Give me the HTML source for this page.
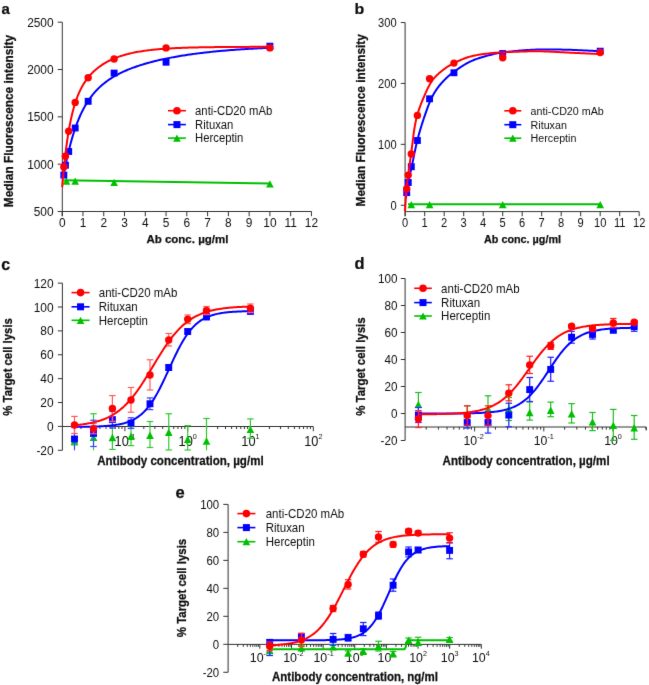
<!DOCTYPE html>
<html><head><meta charset="utf-8"><style>
html,body{margin:0;padding:0;background:#fff;}
svg{display:block;will-change:transform;}
text{font-family:"Liberation Sans",sans-serif;}
</style></head><body>
<svg width="649" height="685" viewBox="0 0 649 685">
<defs><filter id="soft" x="0" y="0" width="649" height="685" filterUnits="userSpaceOnUse"><feConvolveMatrix order="3" kernelMatrix="0.00524 0.06192 0.00524 0.06192 0.73137 0.06192 0.00524 0.06192 0.00524" edgeMode="none"/></filter></defs>
<rect width="649" height="685" fill="#fff"/>
<g filter="url(#soft)">
<line x1="62.3" y1="22.2" x2="62.3" y2="216.2" stroke="#333333" stroke-width="1.0"/>
<line x1="62.3" y1="211.5" x2="311.5" y2="211.5" stroke="#333333" stroke-width="1.0"/>
<line x1="57.7" y1="211.5" x2="62.3" y2="211.5" stroke="#333333" stroke-width="1.0"/>
<text transform="translate(53.6 216) scale(1 1.09)" font-size="11.9" text-anchor="end" fill="#111111">500</text>
<line x1="57.7" y1="164.18" x2="62.3" y2="164.18" stroke="#333333" stroke-width="1.0"/>
<text transform="translate(53.6 168.68) scale(1 1.09)" font-size="11.9" text-anchor="end" fill="#111111">1000</text>
<line x1="57.7" y1="116.85" x2="62.3" y2="116.85" stroke="#333333" stroke-width="1.0"/>
<text transform="translate(53.6 121.35) scale(1 1.09)" font-size="11.9" text-anchor="end" fill="#111111">1500</text>
<line x1="57.7" y1="69.53" x2="62.3" y2="69.53" stroke="#333333" stroke-width="1.0"/>
<text transform="translate(53.6 74.03) scale(1 1.09)" font-size="11.9" text-anchor="end" fill="#111111">2000</text>
<line x1="57.7" y1="22.2" x2="62.3" y2="22.2" stroke="#333333" stroke-width="1.0"/>
<text transform="translate(53.6 26.7) scale(1 1.09)" font-size="11.9" text-anchor="end" fill="#111111">2500</text>
<line x1="62.2" y1="211.5" x2="62.2" y2="216.2" stroke="#333333" stroke-width="1.0"/>
<text transform="translate(62.2 226.7) scale(1 1.09)" font-size="11.9" text-anchor="middle" fill="#111111">0</text>
<line x1="82.97" y1="211.5" x2="82.97" y2="216.2" stroke="#333333" stroke-width="1.0"/>
<text transform="translate(82.97 226.7) scale(1 1.09)" font-size="11.9" text-anchor="middle" fill="#111111">1</text>
<line x1="103.74" y1="211.5" x2="103.74" y2="216.2" stroke="#333333" stroke-width="1.0"/>
<text transform="translate(103.74 226.7) scale(1 1.09)" font-size="11.9" text-anchor="middle" fill="#111111">2</text>
<line x1="124.51" y1="211.5" x2="124.51" y2="216.2" stroke="#333333" stroke-width="1.0"/>
<text transform="translate(124.51 226.7) scale(1 1.09)" font-size="11.9" text-anchor="middle" fill="#111111">3</text>
<line x1="145.28" y1="211.5" x2="145.28" y2="216.2" stroke="#333333" stroke-width="1.0"/>
<text transform="translate(145.28 226.7) scale(1 1.09)" font-size="11.9" text-anchor="middle" fill="#111111">4</text>
<line x1="166.05" y1="211.5" x2="166.05" y2="216.2" stroke="#333333" stroke-width="1.0"/>
<text transform="translate(166.05 226.7) scale(1 1.09)" font-size="11.9" text-anchor="middle" fill="#111111">5</text>
<line x1="186.82" y1="211.5" x2="186.82" y2="216.2" stroke="#333333" stroke-width="1.0"/>
<text transform="translate(186.82 226.7) scale(1 1.09)" font-size="11.9" text-anchor="middle" fill="#111111">6</text>
<line x1="207.59" y1="211.5" x2="207.59" y2="216.2" stroke="#333333" stroke-width="1.0"/>
<text transform="translate(207.59 226.7) scale(1 1.09)" font-size="11.9" text-anchor="middle" fill="#111111">7</text>
<line x1="228.36" y1="211.5" x2="228.36" y2="216.2" stroke="#333333" stroke-width="1.0"/>
<text transform="translate(228.36 226.7) scale(1 1.09)" font-size="11.9" text-anchor="middle" fill="#111111">8</text>
<line x1="249.13" y1="211.5" x2="249.13" y2="216.2" stroke="#333333" stroke-width="1.0"/>
<text transform="translate(249.13 226.7) scale(1 1.09)" font-size="11.9" text-anchor="middle" fill="#111111">9</text>
<line x1="269.9" y1="211.5" x2="269.9" y2="216.2" stroke="#333333" stroke-width="1.0"/>
<text transform="translate(269.9 226.7) scale(1 1.09)" font-size="11.9" text-anchor="middle" fill="#111111">10</text>
<line x1="290.67" y1="211.5" x2="290.67" y2="216.2" stroke="#333333" stroke-width="1.0"/>
<text transform="translate(290.67 226.7) scale(1 1.09)" font-size="11.9" text-anchor="middle" fill="#111111">11</text>
<line x1="311.44" y1="211.5" x2="311.44" y2="216.2" stroke="#333333" stroke-width="1.0"/>
<text transform="translate(311.44 226.7) scale(1 1.09)" font-size="11.9" text-anchor="middle" fill="#111111">12</text>
<text transform="translate(187.4 243.2) scale(1 1.0)" font-size="11.5" text-anchor="middle" font-weight="bold" stroke="#111111" stroke-width="0.25" fill="#111111">Ab conc. µg/ml</text>
<text transform="translate(12.5 121) rotate(-90) scale(1 1.09)" font-size="11.85" text-anchor="middle" font-weight="bold" stroke="#111111" stroke-width="0.25" fill="#111111">Median Fluorescence intensity</text>
<text transform="translate(1.5 13.9) scale(1 1.0)" font-size="15" text-anchor="start" font-weight="bold" stroke="#111111" stroke-width="0.25" fill="#111111">a</text>
<polyline points="63.5,180.3 269.75,183.6" fill="none" stroke="#00c000" stroke-width="2.0" stroke-linejoin="round"/>
<polygon points="66.4,177.3 62.55,184.7 70.25,184.7" fill="#00c000"/>
<polygon points="75.18,177.4 71.33,184.8 79.03,184.8" fill="#00c000"/>
<polygon points="114.12,178.7 110.28,186.1 117.97,186.1" fill="#00c000"/>
<polygon points="269.9,180.2 266.05,187.6 273.75,187.6" fill="#00c000"/>
<polyline points="63,179.1 64.3,171.84 65.6,165.11 66.9,158.87 68.2,153.09 69.5,147.72 70.8,142.74 72.1,138.11 73.4,133.8 74.7,129.78 76,126.04 77.3,122.55 78.6,119.3 79.9,116.25 81.2,113.4 82.5,110.73 83.81,108.23 85.11,105.88 86.41,103.68 87.71,101.6 89.01,99.65 90.31,97.8 91.61,96.06 92.91,94.42 94.21,92.86 95.51,91.39 96.81,89.99 98.11,88.66 99.41,87.4 100.71,86.19 102.01,85.05 103.31,83.95 104.61,82.91 105.91,81.91 107.21,80.95 108.51,80.03 109.81,79.15 111.11,78.31 112.41,77.5 113.71,76.71 115.01,75.96 116.31,75.23 117.61,74.53 118.91,73.85 120.21,73.2 121.51,72.57 122.81,71.95 124.11,71.36 125.42,70.78 126.72,70.22 128.02,69.68 129.32,69.15 130.62,68.64 131.92,68.14 133.22,67.66 134.52,67.19 135.82,66.73 137.12,66.28 138.42,65.84 139.72,65.42 141.02,65 142.32,64.6 143.62,64.2 144.92,63.81 146.22,63.44 147.52,63.07 148.82,62.71 150.12,62.35 151.42,62.01 152.72,61.67 154.02,61.34 155.32,61.02 156.62,60.71 157.92,60.4 159.22,60.09 160.52,59.8 161.82,59.51 163.12,59.22 164.42,58.95 165.72,58.67 167.03,58.41 168.33,58.15 169.63,57.89 170.93,57.64 172.23,57.39 173.53,57.15 174.83,56.92 176.13,56.68 177.43,56.46 178.73,56.23 180.03,56.02 181.33,55.8 182.63,55.59 183.93,55.39 185.23,55.18 186.53,54.99 187.83,54.79 189.13,54.6 190.43,54.42 191.73,54.23 193.03,54.05 194.33,53.88 195.63,53.71 196.93,53.54 198.23,53.37 199.53,53.21 200.83,53.05 202.13,52.89 203.43,52.74 204.73,52.59 206.03,52.44 207.33,52.29 208.64,52.15 209.94,52.01 211.24,51.87 212.54,51.74 213.84,51.61 215.14,51.48 216.44,51.35 217.74,51.23 219.04,51.11 220.34,50.99 221.64,50.87 222.94,50.75 224.24,50.64 225.54,50.53 226.84,50.42 228.14,50.31 229.44,50.21 230.74,50.11 232.04,50.01 233.34,49.91 234.64,49.81 235.94,49.71 237.24,49.62 238.54,49.53 239.84,49.44 241.14,49.35 242.44,49.26 243.74,49.18 245.04,49.1 246.34,49.01 247.64,48.93 248.94,48.86 250.25,48.78 251.55,48.7 252.85,48.63 254.15,48.56 255.45,48.48 256.75,48.41 258.05,48.35 259.35,48.28 260.65,48.21 261.95,48.15 263.25,48.08 264.55,48.02 265.85,47.96 267.15,47.9 268.45,47.84 269.75,47.78" fill="none" stroke="#0000ff" stroke-width="2.0" stroke-linejoin="round"/>
<rect x="60.37" y="171.65" width="6.9" height="6.9" fill="#0000ff"/>
<rect x="61.99" y="161.75" width="6.9" height="6.9" fill="#0000ff"/>
<rect x="65.24" y="148.05" width="6.9" height="6.9" fill="#0000ff"/>
<rect x="71.73" y="124.55" width="6.9" height="6.9" fill="#0000ff"/>
<rect x="84.71" y="97.85" width="6.9" height="6.9" fill="#0000ff"/>
<rect x="110.67" y="69.65" width="6.9" height="6.9" fill="#0000ff"/>
<rect x="162.6" y="58.75" width="6.9" height="6.9" fill="#0000ff"/>
<rect x="266.45" y="42.75" width="6.9" height="6.9" fill="#0000ff"/>
<polyline points="62.25,187.2 63.56,172.12 64.86,159.24 66.17,148.21 67.47,138.71 68.78,130.51 70.08,123.38 71.39,117.16 72.69,111.71 74,106.9 75.3,102.63 76.61,98.83 77.91,95.43 79.22,92.37 80.52,89.59 81.83,87.07 83.13,84.77 84.44,82.65 85.74,80.71 87.05,78.9 88.35,77.23 89.66,75.68 90.96,74.22 92.27,72.86 93.57,71.58 94.88,70.38 96.18,69.25 97.49,68.18 98.79,67.17 100.1,66.22 101.4,65.31 102.71,64.45 104.01,63.64 105.32,62.86 106.62,62.12 107.93,61.42 109.23,60.75 110.54,60.12 111.84,59.51 113.15,58.94 114.45,58.38 115.76,57.86 117.06,57.36 118.37,56.88 119.67,56.43 120.98,55.99 122.28,55.58 123.59,55.18 124.89,54.8 126.2,54.44 127.5,54.1 128.81,53.77 130.11,53.45 131.42,53.15 132.72,52.87 134.03,52.59 135.33,52.33 136.64,52.08 137.94,51.85 139.25,51.62 140.55,51.4 141.86,51.19 143.16,50.99 144.47,50.81 145.77,50.62 147.08,50.45 148.38,50.29 149.69,50.13 150.99,49.98 152.3,49.84 153.6,49.7 154.91,49.57 156.21,49.44 157.52,49.32 158.82,49.21 160.13,49.1 161.43,49 162.74,48.9 164.04,48.8 165.35,48.71 166.65,48.62 167.96,48.54 169.26,48.46 170.57,48.39 171.87,48.31 173.18,48.24 174.48,48.18 175.79,48.12 177.09,48.06 178.4,48 179.7,47.94 181.01,47.89 182.31,47.84 183.62,47.79 184.92,47.75 186.23,47.7 187.53,47.66 188.84,47.62 190.14,47.58 191.45,47.55 192.75,47.51 194.06,47.48 195.36,47.45 196.67,47.42 197.97,47.39 199.28,47.36 200.58,47.34 201.89,47.31 203.19,47.29 204.5,47.26 205.8,47.24 207.11,47.22 208.41,47.2 209.72,47.18 211.02,47.16 212.33,47.15 213.63,47.13 214.94,47.11 216.24,47.1 217.55,47.08 218.85,47.07 220.16,47.06 221.46,47.04 222.77,47.03 224.07,47.02 225.38,47.01 226.68,47 227.99,46.99 229.29,46.98 230.6,46.97 231.9,46.96 233.21,46.95 234.51,46.95 235.82,46.94 237.12,46.93 238.43,46.92 239.73,46.92 241.04,46.91 242.34,46.91 243.65,46.9 244.95,46.89 246.26,46.89 247.56,46.88 248.87,46.88 250.17,46.87 251.48,46.87 252.78,46.87 254.09,46.86 255.39,46.86 256.7,46.85 258,46.85 259.31,46.85 260.61,46.84 261.92,46.84 263.22,46.84 264.53,46.84 265.83,46.83 267.14,46.83 268.44,46.83 269.75,46.83" fill="none" stroke="#ff0000" stroke-width="2.0" stroke-linejoin="round"/>
<circle cx="63.82" cy="167" r="3.7" fill="#ff0000"/>
<circle cx="65.44" cy="156.2" r="3.7" fill="#ff0000"/>
<circle cx="68.69" cy="131.2" r="3.7" fill="#ff0000"/>
<circle cx="75.18" cy="102.4" r="3.7" fill="#ff0000"/>
<circle cx="88.16" cy="77.75" r="3.7" fill="#ff0000"/>
<circle cx="114.12" cy="59" r="3.7" fill="#ff0000"/>
<circle cx="166.05" cy="47.9" r="3.7" fill="#ff0000"/>
<circle cx="269.9" cy="47.9" r="3.7" fill="#ff0000"/>
<line x1="168" y1="110.7" x2="185.9" y2="110.7" stroke="#ff0000" stroke-width="1.6"/>
<circle cx="176.95" cy="110.7" r="3.8" fill="#ff0000"/>
<text transform="translate(195.1 114.77) scale(1 1.09)" font-size="11.3" text-anchor="start" fill="#111111">anti-CD20 mAb</text>
<line x1="168" y1="124.6" x2="185.9" y2="124.6" stroke="#0000ff" stroke-width="1.6"/>
<rect x="173.45" y="121.1" width="7.0" height="7.0" fill="#0000ff"/>
<text transform="translate(195.1 128.67) scale(1 1.09)" font-size="11.3" text-anchor="start" fill="#111111">Rituxan</text>
<line x1="168" y1="138.1" x2="185.9" y2="138.1" stroke="#00c000" stroke-width="1.6"/>
<polygon points="176.95,134.5 173.1,141.7 180.8,141.7" fill="#00c000"/>
<text transform="translate(195.1 142.17) scale(1 1.09)" font-size="11.3" text-anchor="start" fill="#111111">Herceptin</text>
<line x1="405.1" y1="22.5" x2="405.1" y2="216.2" stroke="#333333" stroke-width="1.0"/>
<line x1="405.1" y1="211.6" x2="639.2" y2="211.6" stroke="#333333" stroke-width="1.0"/>
<line x1="400.8" y1="205.25" x2="405.1" y2="205.25" stroke="#333333" stroke-width="1.0"/>
<text transform="translate(396.6 209.55) scale(1 1.09)" font-size="11.1" text-anchor="end" fill="#111111">0</text>
<line x1="400.8" y1="144.35" x2="405.1" y2="144.35" stroke="#333333" stroke-width="1.0"/>
<text transform="translate(396.6 148.65) scale(1 1.09)" font-size="11.1" text-anchor="end" fill="#111111">100</text>
<line x1="400.8" y1="83.45" x2="405.1" y2="83.45" stroke="#333333" stroke-width="1.0"/>
<text transform="translate(396.6 87.75) scale(1 1.09)" font-size="11.1" text-anchor="end" fill="#111111">200</text>
<line x1="400.8" y1="22.55" x2="405.1" y2="22.55" stroke="#333333" stroke-width="1.0"/>
<text transform="translate(396.6 26.85) scale(1 1.09)" font-size="11.1" text-anchor="end" fill="#111111">300</text>
<line x1="405.2" y1="211.6" x2="405.2" y2="216.2" stroke="#333333" stroke-width="1.0"/>
<text transform="translate(405.2 226.9) scale(1 1.09)" font-size="11.1" text-anchor="middle" fill="#111111">0</text>
<line x1="424.7" y1="211.6" x2="424.7" y2="216.2" stroke="#333333" stroke-width="1.0"/>
<text transform="translate(424.7 226.9) scale(1 1.09)" font-size="11.1" text-anchor="middle" fill="#111111">1</text>
<line x1="444.2" y1="211.6" x2="444.2" y2="216.2" stroke="#333333" stroke-width="1.0"/>
<text transform="translate(444.2 226.9) scale(1 1.09)" font-size="11.1" text-anchor="middle" fill="#111111">2</text>
<line x1="463.7" y1="211.6" x2="463.7" y2="216.2" stroke="#333333" stroke-width="1.0"/>
<text transform="translate(463.7 226.9) scale(1 1.09)" font-size="11.1" text-anchor="middle" fill="#111111">3</text>
<line x1="483.2" y1="211.6" x2="483.2" y2="216.2" stroke="#333333" stroke-width="1.0"/>
<text transform="translate(483.2 226.9) scale(1 1.09)" font-size="11.1" text-anchor="middle" fill="#111111">4</text>
<line x1="502.7" y1="211.6" x2="502.7" y2="216.2" stroke="#333333" stroke-width="1.0"/>
<text transform="translate(502.7 226.9) scale(1 1.09)" font-size="11.1" text-anchor="middle" fill="#111111">5</text>
<line x1="522.2" y1="211.6" x2="522.2" y2="216.2" stroke="#333333" stroke-width="1.0"/>
<text transform="translate(522.2 226.9) scale(1 1.09)" font-size="11.1" text-anchor="middle" fill="#111111">6</text>
<line x1="541.7" y1="211.6" x2="541.7" y2="216.2" stroke="#333333" stroke-width="1.0"/>
<text transform="translate(541.7 226.9) scale(1 1.09)" font-size="11.1" text-anchor="middle" fill="#111111">7</text>
<line x1="561.2" y1="211.6" x2="561.2" y2="216.2" stroke="#333333" stroke-width="1.0"/>
<text transform="translate(561.2 226.9) scale(1 1.09)" font-size="11.1" text-anchor="middle" fill="#111111">8</text>
<line x1="580.7" y1="211.6" x2="580.7" y2="216.2" stroke="#333333" stroke-width="1.0"/>
<text transform="translate(580.7 226.9) scale(1 1.09)" font-size="11.1" text-anchor="middle" fill="#111111">9</text>
<line x1="600.2" y1="211.6" x2="600.2" y2="216.2" stroke="#333333" stroke-width="1.0"/>
<text transform="translate(600.2 226.9) scale(1 1.09)" font-size="11.1" text-anchor="middle" fill="#111111">10</text>
<line x1="619.7" y1="211.6" x2="619.7" y2="216.2" stroke="#333333" stroke-width="1.0"/>
<text transform="translate(619.7 226.9) scale(1 1.09)" font-size="11.1" text-anchor="middle" fill="#111111">11</text>
<line x1="639.2" y1="211.6" x2="639.2" y2="216.2" stroke="#333333" stroke-width="1.0"/>
<text transform="translate(639.2 226.9) scale(1 1.09)" font-size="11.1" text-anchor="middle" fill="#111111">12</text>
<text transform="translate(522.5 243.2) scale(1 1.0)" font-size="10.8" text-anchor="middle" font-weight="bold" stroke="#111111" stroke-width="0.25" fill="#111111">Ab conc. µg/ml</text>
<text transform="translate(365.4 120.3) rotate(-90) scale(1 1.09)" font-size="11.85" text-anchor="middle" font-weight="bold" stroke="#111111" stroke-width="0.25" fill="#111111">Median Fluorescence intensity</text>
<text transform="translate(354.6 14) scale(1 0.97)" font-size="16" text-anchor="start" font-weight="bold" stroke="#111111" stroke-width="0.25" fill="#111111">b</text>
<polyline points="408,204.3 600.2,204.2" fill="none" stroke="#00c000" stroke-width="2.0" stroke-linejoin="round"/>
<polygon points="411.29,200.9 407.44,208.3 415.14,208.3" fill="#00c000"/>
<polygon points="429.57,200.9 425.72,208.3 433.43,208.3" fill="#00c000"/>
<polygon points="502.7,200.9 498.85,208.3 506.55,208.3" fill="#00c000"/>
<polygon points="600.2,200.9 596.35,208.3 604.05,208.3" fill="#00c000"/>
<polyline points="406,198 406.07,197.39 406.14,196.78 406.21,196.17 406.28,195.57 406.35,194.96 406.42,194.36 406.49,193.75 406.56,193.13 406.64,192.51 406.72,191.88 406.81,191.25 406.9,190.6 407.01,189.85 407.13,189.11 407.26,188.35 407.39,187.59 407.52,186.82 407.66,186.04 407.81,185.25 407.96,184.45 408.11,183.64 408.27,182.81 408.43,181.96 408.6,181.1 408.82,180 409.05,178.84 409.29,177.65 409.55,176.42 409.81,175.17 410.08,173.91 410.35,172.66 410.61,171.42 410.87,170.2 411.13,169.02 411.37,167.88 411.6,166.8 411.77,166 411.93,165.25 412.09,164.52 412.24,163.82 412.39,163.14 412.53,162.46 412.68,161.78 412.83,161.09 412.99,160.37 413.15,159.62 413.32,158.84 413.5,158 413.77,156.73 414.05,155.38 414.34,153.97 414.64,152.5 414.95,150.99 415.26,149.45 415.59,147.88 415.93,146.29 416.28,144.7 416.64,143.12 417.01,141.55 417.4,140 417.82,138.36 418.26,136.71 418.72,135.06 419.18,133.39 419.66,131.72 420.15,130.04 420.65,128.36 421.16,126.68 421.68,125 422.21,123.33 422.75,121.66 423.3,120 423.86,118.3 424.45,116.57 425.04,114.82 425.65,113.06 426.26,111.3 426.89,109.56 427.52,107.84 428.15,106.15 428.79,104.51 429.43,102.93 430.07,101.43 430.7,100 431.17,98.99 431.63,98.02 432.08,97.08 432.53,96.18 432.99,95.31 433.45,94.46 433.91,93.62 434.39,92.79 434.89,91.97 435.4,91.16 435.94,90.33 436.5,89.5 437.12,88.62 437.76,87.74 438.43,86.86 439.11,85.99 439.82,85.12 440.53,84.26 441.26,83.41 442,82.58 442.75,81.76 443.5,80.95 444.25,80.17 445,79.4 445.7,78.7 446.4,78.03 447.09,77.38 447.78,76.74 448.48,76.12 449.19,75.5 449.91,74.89 450.66,74.29 451.42,73.68 452.22,73.06 453.04,72.44 453.9,71.8 455.05,70.96 456.27,70.09 457.54,69.2 458.86,68.31 460.22,67.4 461.6,66.5 463,65.62 464.41,64.76 465.83,63.93 467.24,63.13 468.63,62.39 470,61.7 471.24,61.11 472.48,60.56 473.73,60.05 474.97,59.55 476.22,59.09 477.47,58.65 478.72,58.22 479.97,57.82 481.23,57.43 482.48,57.04 483.74,56.67 485,56.3 486.23,55.95 487.46,55.61 488.68,55.29 489.89,54.98 491.11,54.68 492.34,54.4 493.57,54.13 494.82,53.87 496.08,53.61 497.36,53.37 498.67,53.13 500,52.9 501.56,52.65 503.16,52.4 504.79,52.18 506.44,51.96 508.12,51.76 509.81,51.57 511.51,51.39 513.22,51.22 514.93,51.05 516.63,50.89 518.32,50.74 520,50.6 521.65,50.46 523.29,50.33 524.92,50.21 526.54,50.1 528.16,50 529.79,49.9 531.42,49.81 533.08,49.73 534.76,49.66 536.47,49.6 538.22,49.55 540,49.5 542.16,49.46 544.37,49.43 546.62,49.42 548.91,49.42 551.23,49.43 553.58,49.45 555.96,49.49 558.35,49.53 560.75,49.57 563.17,49.63 565.58,49.69 568,49.75 570.61,49.83 573.24,49.92 575.89,50.03 578.57,50.14 581.26,50.27 583.96,50.4 586.67,50.53 589.38,50.67 592.1,50.81 594.81,50.94 597.51,51.08 600.2,51.2" fill="none" stroke="#0000ff" stroke-width="2.0" stroke-linejoin="round"/>
<rect x="403.27" y="189.15" width="6.9" height="6.9" fill="#0000ff"/>
<rect x="404.79" y="179.05" width="6.9" height="6.9" fill="#0000ff"/>
<rect x="407.84" y="163.25" width="6.9" height="6.9" fill="#0000ff"/>
<rect x="413.94" y="137.05" width="6.9" height="6.9" fill="#0000ff"/>
<rect x="426.12" y="95.35" width="6.9" height="6.9" fill="#0000ff"/>
<rect x="450.5" y="69.3" width="6.9" height="6.9" fill="#0000ff"/>
<rect x="499.25" y="50.05" width="6.9" height="6.9" fill="#0000ff"/>
<rect x="596.75" y="47.75" width="6.9" height="6.9" fill="#0000ff"/>
<polyline points="405,211.6 405.12,209.66 405.24,207.7 405.36,205.71 405.47,203.72 405.59,201.72 405.7,199.74 405.82,197.77 405.94,195.84 406.07,193.94 406.21,192.1 406.35,190.31 406.5,188.6 406.62,187.33 406.75,186.11 406.88,184.94 407.01,183.8 407.15,182.69 407.28,181.6 407.43,180.5 407.57,179.4 407.72,178.28 407.88,177.13 408.04,175.94 408.2,174.7 408.41,173.11 408.64,171.43 408.88,169.69 409.13,167.9 409.38,166.08 409.64,164.25 409.9,162.44 410.15,160.66 410.39,158.92 410.63,157.25 410.85,155.67 411.05,154.2 411.18,153.23 411.3,152.32 411.42,151.46 411.53,150.62 411.64,149.82 411.74,149.02 411.84,148.23 411.95,147.44 412.05,146.63 412.16,145.79 412.28,144.92 412.4,144 412.56,142.79 412.71,141.52 412.87,140.21 413.03,138.86 413.19,137.49 413.36,136.1 413.53,134.71 413.71,133.32 413.9,131.94 414.09,130.59 414.29,129.27 414.5,128 414.69,126.9 414.88,125.82 415.07,124.76 415.27,123.72 415.47,122.69 415.68,121.66 415.9,120.64 416.12,119.62 416.37,118.58 416.63,117.54 416.9,116.48 417.2,115.4 417.55,114.17 417.92,112.92 418.31,111.67 418.71,110.41 419.13,109.14 419.57,107.87 420.03,106.58 420.5,105.28 421,103.98 421.51,102.66 422.04,101.34 422.6,100 423.27,98.42 423.96,96.77 424.68,95.08 425.43,93.36 426.2,91.63 427,89.9 427.82,88.19 428.67,86.51 429.54,84.89 430.44,83.34 431.36,81.87 432.3,80.5 433.1,79.43 433.93,78.41 434.78,77.43 435.65,76.49 436.54,75.59 437.44,74.72 438.35,73.88 439.27,73.06 440.2,72.27 441.13,71.5 442.07,70.74 443,70 443.85,69.34 444.7,68.71 445.55,68.11 446.4,67.52 447.25,66.96 448.12,66.42 449,65.88 449.89,65.36 450.81,64.84 451.74,64.33 452.71,63.82 453.7,63.3 454.91,62.68 456.16,62.07 457.44,61.45 458.76,60.84 460.1,60.24 461.46,59.65 462.85,59.08 464.25,58.53 465.67,58 467.11,57.5 468.55,57.03 470,56.6 471.6,56.18 473.26,55.79 474.98,55.43 476.73,55.11 478.49,54.81 480.26,54.54 482.02,54.29 483.74,54.06 485.42,53.85 487.03,53.66 488.56,53.47 490,53.3 490.94,53.19 491.82,53.09 492.66,53.01 493.45,52.94 494.23,52.87 494.99,52.81 495.76,52.76 496.54,52.71 497.34,52.66 498.17,52.61 499.06,52.56 500,52.5 501.43,52.41 502.94,52.33 504.52,52.24 506.16,52.16 507.85,52.08 509.57,52 511.32,51.92 513.08,51.85 514.84,51.78 516.59,51.71 518.31,51.65 520,51.6 521.66,51.55 523.29,51.5 524.92,51.45 526.54,51.41 528.16,51.37 529.79,51.33 531.43,51.3 533.09,51.28 534.76,51.27 536.47,51.27 538.22,51.28 540,51.3 542.16,51.35 544.37,51.41 546.62,51.5 548.91,51.6 551.24,51.71 553.58,51.84 555.96,51.97 558.35,52.1 560.75,52.23 563.17,52.36 565.58,52.49 568,52.6 570.6,52.72 573.24,52.83 575.89,52.95 578.57,53.07 581.26,53.18 583.96,53.3 586.67,53.42 589.38,53.53 592.1,53.65 594.81,53.77 597.51,53.88 600.2,54" fill="none" stroke="#ff0000" stroke-width="2.0" stroke-linejoin="round"/>
<circle cx="406.72" cy="188.8" r="3.7" fill="#ff0000"/>
<circle cx="408.24" cy="175.1" r="3.7" fill="#ff0000"/>
<circle cx="411.29" cy="154" r="3.7" fill="#ff0000"/>
<circle cx="417.39" cy="115.4" r="3.7" fill="#ff0000"/>
<circle cx="429.57" cy="78.75" r="3.7" fill="#ff0000"/>
<circle cx="453.95" cy="63.1" r="3.7" fill="#ff0000"/>
<circle cx="502.7" cy="57.75" r="3.7" fill="#ff0000"/>
<circle cx="600.2" cy="52.5" r="3.7" fill="#ff0000"/>
<line x1="504.3" y1="110.8" x2="521.3" y2="110.8" stroke="#ff0000" stroke-width="1.6"/>
<circle cx="512.8" cy="110.8" r="3.8" fill="#ff0000"/>
<text transform="translate(530.6 114.65) scale(1 1.09)" font-size="10.7" text-anchor="start" fill="#111111">anti-CD20 mAb</text>
<line x1="504.3" y1="124.7" x2="521.3" y2="124.7" stroke="#0000ff" stroke-width="1.6"/>
<rect x="509.3" y="121.2" width="7.0" height="7.0" fill="#0000ff"/>
<text transform="translate(530.6 128.55) scale(1 1.09)" font-size="10.7" text-anchor="start" fill="#111111">Rituxan</text>
<line x1="504.3" y1="138.2" x2="521.3" y2="138.2" stroke="#00c000" stroke-width="1.6"/>
<polygon points="512.8,134.6 508.95,141.8 516.65,141.8" fill="#00c000"/>
<text transform="translate(530.6 142.05) scale(1 1.09)" font-size="10.7" text-anchor="start" fill="#111111">Herceptin</text>
<line x1="62.4" y1="283.1" x2="62.4" y2="450.3" stroke="#333333" stroke-width="1.0"/>
<line x1="57.9" y1="450.28" x2="62.4" y2="450.28" stroke="#333333" stroke-width="1.0"/>
<text transform="translate(53.6 454.78) scale(1 1.09)" font-size="11.9" text-anchor="end" fill="#111111">-20</text>
<line x1="57.9" y1="426.4" x2="62.4" y2="426.4" stroke="#333333" stroke-width="1.0"/>
<text transform="translate(53.6 430.9) scale(1 1.09)" font-size="11.9" text-anchor="end" fill="#111111">0</text>
<line x1="57.9" y1="402.52" x2="62.4" y2="402.52" stroke="#333333" stroke-width="1.0"/>
<text transform="translate(53.6 407.02) scale(1 1.09)" font-size="11.9" text-anchor="end" fill="#111111">20</text>
<line x1="57.9" y1="378.64" x2="62.4" y2="378.64" stroke="#333333" stroke-width="1.0"/>
<text transform="translate(53.6 383.14) scale(1 1.09)" font-size="11.9" text-anchor="end" fill="#111111">40</text>
<line x1="57.9" y1="354.76" x2="62.4" y2="354.76" stroke="#333333" stroke-width="1.0"/>
<text transform="translate(53.6 359.26) scale(1 1.09)" font-size="11.9" text-anchor="end" fill="#111111">60</text>
<line x1="57.9" y1="330.88" x2="62.4" y2="330.88" stroke="#333333" stroke-width="1.0"/>
<text transform="translate(53.6 335.38) scale(1 1.09)" font-size="11.9" text-anchor="end" fill="#111111">80</text>
<line x1="57.9" y1="307" x2="62.4" y2="307" stroke="#333333" stroke-width="1.0"/>
<text transform="translate(53.6 311.5) scale(1 1.09)" font-size="11.9" text-anchor="end" fill="#111111">100</text>
<line x1="57.9" y1="283.12" x2="62.4" y2="283.12" stroke="#333333" stroke-width="1.0"/>
<text transform="translate(53.6 287.62) scale(1 1.09)" font-size="11.9" text-anchor="end" fill="#111111">120</text>
<line x1="62.4" y1="426.5" x2="313.3" y2="426.5" stroke="#333333" stroke-width="1.0"/>
<line x1="81" y1="426.5" x2="81" y2="429" stroke="#333333" stroke-width="1.0"/>
<line x1="92.06" y1="426.5" x2="92.06" y2="429" stroke="#333333" stroke-width="1.0"/>
<line x1="99.91" y1="426.5" x2="99.91" y2="429" stroke="#333333" stroke-width="1.0"/>
<line x1="106" y1="426.5" x2="106" y2="429" stroke="#333333" stroke-width="1.0"/>
<line x1="110.97" y1="426.5" x2="110.97" y2="429" stroke="#333333" stroke-width="1.0"/>
<line x1="115.17" y1="426.5" x2="115.17" y2="429" stroke="#333333" stroke-width="1.0"/>
<line x1="118.81" y1="426.5" x2="118.81" y2="429" stroke="#333333" stroke-width="1.0"/>
<line x1="122.03" y1="426.5" x2="122.03" y2="429" stroke="#333333" stroke-width="1.0"/>
<line x1="143.8" y1="426.5" x2="143.8" y2="429" stroke="#333333" stroke-width="1.0"/>
<line x1="154.86" y1="426.5" x2="154.86" y2="429" stroke="#333333" stroke-width="1.0"/>
<line x1="162.71" y1="426.5" x2="162.71" y2="429" stroke="#333333" stroke-width="1.0"/>
<line x1="168.8" y1="426.5" x2="168.8" y2="429" stroke="#333333" stroke-width="1.0"/>
<line x1="173.77" y1="426.5" x2="173.77" y2="429" stroke="#333333" stroke-width="1.0"/>
<line x1="177.97" y1="426.5" x2="177.97" y2="429" stroke="#333333" stroke-width="1.0"/>
<line x1="181.61" y1="426.5" x2="181.61" y2="429" stroke="#333333" stroke-width="1.0"/>
<line x1="184.83" y1="426.5" x2="184.83" y2="429" stroke="#333333" stroke-width="1.0"/>
<line x1="206.6" y1="426.5" x2="206.6" y2="429" stroke="#333333" stroke-width="1.0"/>
<line x1="217.66" y1="426.5" x2="217.66" y2="429" stroke="#333333" stroke-width="1.0"/>
<line x1="225.51" y1="426.5" x2="225.51" y2="429" stroke="#333333" stroke-width="1.0"/>
<line x1="231.6" y1="426.5" x2="231.6" y2="429" stroke="#333333" stroke-width="1.0"/>
<line x1="236.57" y1="426.5" x2="236.57" y2="429" stroke="#333333" stroke-width="1.0"/>
<line x1="240.77" y1="426.5" x2="240.77" y2="429" stroke="#333333" stroke-width="1.0"/>
<line x1="244.41" y1="426.5" x2="244.41" y2="429" stroke="#333333" stroke-width="1.0"/>
<line x1="247.63" y1="426.5" x2="247.63" y2="429" stroke="#333333" stroke-width="1.0"/>
<line x1="269.4" y1="426.5" x2="269.4" y2="429" stroke="#333333" stroke-width="1.0"/>
<line x1="280.46" y1="426.5" x2="280.46" y2="429" stroke="#333333" stroke-width="1.0"/>
<line x1="288.31" y1="426.5" x2="288.31" y2="429" stroke="#333333" stroke-width="1.0"/>
<line x1="294.4" y1="426.5" x2="294.4" y2="429" stroke="#333333" stroke-width="1.0"/>
<line x1="299.37" y1="426.5" x2="299.37" y2="429" stroke="#333333" stroke-width="1.0"/>
<line x1="303.57" y1="426.5" x2="303.57" y2="429" stroke="#333333" stroke-width="1.0"/>
<line x1="307.21" y1="426.5" x2="307.21" y2="429" stroke="#333333" stroke-width="1.0"/>
<line x1="310.43" y1="426.5" x2="310.43" y2="429" stroke="#333333" stroke-width="1.0"/>
<line x1="124.9" y1="426.5" x2="124.9" y2="431.2" stroke="#333333" stroke-width="1.0"/>
<text transform="translate(114.54 445.5) scale(1 1.09)" font-size="12.8" fill="#111111">10<tspan font-size="7.3" dy="-5.76">-1</tspan></text>
<line x1="187.7" y1="426.5" x2="187.7" y2="431.2" stroke="#333333" stroke-width="1.0"/>
<text transform="translate(178.55 445.5) scale(1 1.09)" font-size="12.8" fill="#111111">10<tspan font-size="7.3" dy="-5.76">0</tspan></text>
<line x1="250.5" y1="426.5" x2="250.5" y2="431.2" stroke="#333333" stroke-width="1.0"/>
<text transform="translate(241.35 445.5) scale(1 1.09)" font-size="12.8" fill="#111111">10<tspan font-size="7.3" dy="-5.76">1</tspan></text>
<line x1="313.3" y1="426.5" x2="313.3" y2="431.2" stroke="#333333" stroke-width="1.0"/>
<text transform="translate(304.15 445.5) scale(1 1.09)" font-size="12.8" fill="#111111">10<tspan font-size="7.3" dy="-5.76">2</tspan></text>
<text transform="translate(180.4 464.5) scale(1 1.09)" font-size="11.55" text-anchor="middle" font-weight="bold" stroke="#111111" stroke-width="0.25" fill="#111111">Antibody concentration, µg/ml</text>
<text transform="translate(11.9 366.9) rotate(-90) scale(1 1.09)" font-size="11.35" text-anchor="middle" font-weight="bold" stroke="#111111" stroke-width="0.25" fill="#111111">% Target cell lysis</text>
<text transform="translate(1.3 269.6) scale(1 1.0)" font-size="16" text-anchor="start" font-weight="bold" stroke="#111111" stroke-width="0.25" fill="#111111">c</text>
<line x1="74.5" y1="437" x2="74.5" y2="445" stroke="#33c833" stroke-width="1.2"/>
<line x1="71.25" y1="437" x2="77.75" y2="437" stroke="#33c833" stroke-width="1.2"/>
<line x1="71.25" y1="445" x2="77.75" y2="445" stroke="#33c833" stroke-width="1.2"/>
<line x1="93.5" y1="413.75" x2="93.5" y2="450.3" stroke="#33c833" stroke-width="1.2"/>
<line x1="90.25" y1="413.75" x2="96.75" y2="413.75" stroke="#33c833" stroke-width="1.2"/>
<line x1="112.4" y1="425.5" x2="112.4" y2="449.4" stroke="#33c833" stroke-width="1.2"/>
<line x1="109.15" y1="425.5" x2="115.65" y2="425.5" stroke="#33c833" stroke-width="1.2"/>
<line x1="109.15" y1="449.4" x2="115.65" y2="449.4" stroke="#33c833" stroke-width="1.2"/>
<line x1="131" y1="426.9" x2="131" y2="445.6" stroke="#33c833" stroke-width="1.2"/>
<line x1="127.75" y1="426.9" x2="134.25" y2="426.9" stroke="#33c833" stroke-width="1.2"/>
<line x1="127.75" y1="445.6" x2="134.25" y2="445.6" stroke="#33c833" stroke-width="1.2"/>
<line x1="150" y1="421.5" x2="150" y2="447.5" stroke="#33c833" stroke-width="1.2"/>
<line x1="146.75" y1="421.5" x2="153.25" y2="421.5" stroke="#33c833" stroke-width="1.2"/>
<line x1="146.75" y1="447.5" x2="153.25" y2="447.5" stroke="#33c833" stroke-width="1.2"/>
<line x1="168.75" y1="413.75" x2="168.75" y2="450" stroke="#33c833" stroke-width="1.2"/>
<line x1="165.5" y1="413.75" x2="172" y2="413.75" stroke="#33c833" stroke-width="1.2"/>
<line x1="165.5" y1="450" x2="172" y2="450" stroke="#33c833" stroke-width="1.2"/>
<line x1="187.7" y1="425.6" x2="187.7" y2="450" stroke="#33c833" stroke-width="1.2"/>
<line x1="184.45" y1="425.6" x2="190.95" y2="425.6" stroke="#33c833" stroke-width="1.2"/>
<line x1="184.45" y1="450" x2="190.95" y2="450" stroke="#33c833" stroke-width="1.2"/>
<line x1="206.5" y1="418.5" x2="206.5" y2="450.3" stroke="#33c833" stroke-width="1.2"/>
<line x1="203.25" y1="418.5" x2="209.75" y2="418.5" stroke="#33c833" stroke-width="1.2"/>
<line x1="250.4" y1="418.9" x2="250.4" y2="438.3" stroke="#33c833" stroke-width="1.2"/>
<line x1="247.15" y1="418.9" x2="253.65" y2="418.9" stroke="#33c833" stroke-width="1.2"/>
<line x1="247.15" y1="438.3" x2="253.65" y2="438.3" stroke="#33c833" stroke-width="1.2"/>
<polygon points="74.5,437.3 70.65,444.7 78.35,444.7" fill="#00c000"/>
<polygon points="93.5,433.7 89.65,441.1 97.35,441.1" fill="#00c000"/>
<polygon points="112.4,433.8 108.55,441.2 116.25,441.2" fill="#00c000"/>
<polygon points="131,432.55 127.15,439.95 134.85,439.95" fill="#00c000"/>
<polygon points="150,431.55 146.15,438.95 153.85,438.95" fill="#00c000"/>
<polygon points="168.75,428.55 164.9,435.95 172.6,435.95" fill="#00c000"/>
<polygon points="187.7,435.7 183.85,443.1 191.55,443.1" fill="#00c000"/>
<polygon points="206.5,437.3 202.65,444.7 210.35,444.7" fill="#00c000"/>
<polygon points="250.4,425.7 246.55,433.1 254.25,433.1" fill="#00c000"/>
<line x1="74.5" y1="427.4" x2="74.5" y2="450.3" stroke="#3c3cff" stroke-width="1.2"/>
<line x1="71.25" y1="427.4" x2="77.75" y2="427.4" stroke="#3c3cff" stroke-width="1.2"/>
<line x1="93.5" y1="420.25" x2="93.5" y2="446.5" stroke="#3c3cff" stroke-width="1.2"/>
<line x1="90.25" y1="420.25" x2="96.75" y2="420.25" stroke="#3c3cff" stroke-width="1.2"/>
<line x1="90.25" y1="446.5" x2="96.75" y2="446.5" stroke="#3c3cff" stroke-width="1.2"/>
<line x1="112.4" y1="411.25" x2="112.4" y2="428" stroke="#3c3cff" stroke-width="1.2"/>
<line x1="109.15" y1="411.25" x2="115.65" y2="411.25" stroke="#3c3cff" stroke-width="1.2"/>
<line x1="109.15" y1="428" x2="115.65" y2="428" stroke="#3c3cff" stroke-width="1.2"/>
<line x1="131" y1="417.75" x2="131" y2="428.5" stroke="#3c3cff" stroke-width="1.2"/>
<line x1="127.75" y1="417.75" x2="134.25" y2="417.75" stroke="#3c3cff" stroke-width="1.2"/>
<line x1="127.75" y1="428.5" x2="134.25" y2="428.5" stroke="#3c3cff" stroke-width="1.2"/>
<line x1="150" y1="397.9" x2="150" y2="409.6" stroke="#3c3cff" stroke-width="1.2"/>
<line x1="146.75" y1="397.9" x2="153.25" y2="397.9" stroke="#3c3cff" stroke-width="1.2"/>
<line x1="146.75" y1="409.6" x2="153.25" y2="409.6" stroke="#3c3cff" stroke-width="1.2"/>
<line x1="168.75" y1="365" x2="168.75" y2="370" stroke="#3c3cff" stroke-width="1.2"/>
<line x1="165.5" y1="365" x2="172" y2="365" stroke="#3c3cff" stroke-width="1.2"/>
<line x1="165.5" y1="370" x2="172" y2="370" stroke="#3c3cff" stroke-width="1.2"/>
<line x1="187.7" y1="329.5" x2="187.7" y2="333.5" stroke="#3c3cff" stroke-width="1.2"/>
<line x1="184.45" y1="329.5" x2="190.95" y2="329.5" stroke="#3c3cff" stroke-width="1.2"/>
<line x1="184.45" y1="333.5" x2="190.95" y2="333.5" stroke="#3c3cff" stroke-width="1.2"/>
<line x1="206.5" y1="313.5" x2="206.5" y2="319.9" stroke="#3c3cff" stroke-width="1.2"/>
<line x1="203.25" y1="313.5" x2="209.75" y2="313.5" stroke="#3c3cff" stroke-width="1.2"/>
<line x1="203.25" y1="319.9" x2="209.75" y2="319.9" stroke="#3c3cff" stroke-width="1.2"/>
<line x1="250.4" y1="308.5" x2="250.4" y2="314.1" stroke="#3c3cff" stroke-width="1.2"/>
<line x1="247.15" y1="308.5" x2="253.65" y2="308.5" stroke="#3c3cff" stroke-width="1.2"/>
<line x1="247.15" y1="314.1" x2="253.65" y2="314.1" stroke="#3c3cff" stroke-width="1.2"/>
<polyline points="74.5,426.86 75.61,426.85 76.71,426.84 77.82,426.83 78.93,426.82 80.03,426.81 81.14,426.8 82.24,426.78 83.35,426.77 84.46,426.76 85.56,426.74 86.67,426.72 87.78,426.7 88.88,426.68 89.99,426.66 91.09,426.63 92.2,426.6 93.31,426.57 94.41,426.54 95.52,426.51 96.63,426.47 97.73,426.43 98.84,426.38 99.94,426.33 101.05,426.28 102.16,426.22 103.26,426.16 104.37,426.09 105.48,426.01 106.58,425.93 107.69,425.85 108.79,425.75 109.9,425.65 111.01,425.54 112.11,425.41 113.22,425.28 114.33,425.14 115.43,424.98 116.54,424.81 117.65,424.63 118.75,424.43 119.86,424.22 120.96,423.99 122.07,423.74 123.18,423.46 124.28,423.17 125.39,422.85 126.5,422.51 127.6,422.13 128.71,421.73 129.81,421.3 130.92,420.83 132.03,420.33 133.13,419.79 134.24,419.2 135.35,418.57 136.45,417.9 137.56,417.17 138.66,416.4 139.77,415.56 140.88,414.68 141.98,413.72 143.09,412.71 144.2,411.63 145.3,410.48 146.41,409.26 147.52,407.97 148.62,406.6 149.73,405.16 150.83,403.63 151.94,402.03 153.05,400.35 154.15,398.6 155.26,396.76 156.37,394.86 157.47,392.87 158.58,390.82 159.68,388.71 160.79,386.53 161.9,384.29 163,382.01 164.11,379.68 165.22,377.32 166.32,374.92 167.43,372.51 168.53,370.08 169.64,367.65 170.75,365.22 171.85,362.81 172.96,360.42 174.07,358.06 175.17,355.73 176.28,353.45 177.38,351.22 178.49,349.04 179.6,346.93 180.7,344.88 181.81,342.9 182.92,341 184.02,339.17 185.13,337.42 186.24,335.74 187.34,334.15 188.45,332.63 189.55,331.19 190.66,329.82 191.77,328.54 192.87,327.32 193.98,326.17 195.09,325.1 196.19,324.09 197.3,323.14 198.4,322.25 199.51,321.43 200.62,320.65 201.72,319.93 202.83,319.26 203.94,318.63 205.04,318.05 206.15,317.51 207.25,317.01 208.36,316.54 209.47,316.11 210.57,315.71 211.68,315.34 212.79,315 213.89,314.68 215,314.39 216.11,314.12 217.21,313.87 218.32,313.63 219.42,313.42 220.53,313.22 221.64,313.04 222.74,312.87 223.85,312.72 224.96,312.58 226.06,312.45 227.17,312.32 228.27,312.21 229.38,312.11 230.49,312.02 231.59,311.93 232.7,311.85 233.81,311.77 234.91,311.71 236.02,311.64 237.12,311.59 238.23,311.53 239.34,311.48 240.44,311.44 241.55,311.4 242.66,311.36 243.76,311.32 244.87,311.29 245.97,311.26 247.08,311.23 248.19,311.21 249.29,311.19 250.4,311.16" fill="none" stroke="#0000ff" stroke-width="2.0" stroke-linejoin="round"/>
<rect x="71.05" y="435.55" width="6.9" height="6.9" fill="#0000ff"/>
<rect x="90.05" y="430.05" width="6.9" height="6.9" fill="#0000ff"/>
<rect x="108.95" y="416.15" width="6.9" height="6.9" fill="#0000ff"/>
<rect x="127.55" y="419.65" width="6.9" height="6.9" fill="#0000ff"/>
<rect x="146.55" y="400.3" width="6.9" height="6.9" fill="#0000ff"/>
<rect x="165.3" y="364.05" width="6.9" height="6.9" fill="#0000ff"/>
<rect x="184.25" y="328.05" width="6.9" height="6.9" fill="#0000ff"/>
<rect x="203.05" y="313.25" width="6.9" height="6.9" fill="#0000ff"/>
<rect x="246.95" y="307.85" width="6.9" height="6.9" fill="#0000ff"/>
<line x1="74.5" y1="416.4" x2="74.5" y2="433.5" stroke="#ff5a5a" stroke-width="1.2"/>
<line x1="71.25" y1="416.4" x2="77.75" y2="416.4" stroke="#ff5a5a" stroke-width="1.2"/>
<line x1="71.25" y1="433.5" x2="77.75" y2="433.5" stroke="#ff5a5a" stroke-width="1.2"/>
<line x1="93.5" y1="423.5" x2="93.5" y2="433.75" stroke="#ff5a5a" stroke-width="1.2"/>
<line x1="90.25" y1="423.5" x2="96.75" y2="423.5" stroke="#ff5a5a" stroke-width="1.2"/>
<line x1="90.25" y1="433.75" x2="96.75" y2="433.75" stroke="#ff5a5a" stroke-width="1.2"/>
<line x1="112.4" y1="395.6" x2="112.4" y2="421.4" stroke="#ff5a5a" stroke-width="1.2"/>
<line x1="109.15" y1="395.6" x2="115.65" y2="395.6" stroke="#ff5a5a" stroke-width="1.2"/>
<line x1="109.15" y1="421.4" x2="115.65" y2="421.4" stroke="#ff5a5a" stroke-width="1.2"/>
<line x1="131" y1="387.5" x2="131" y2="412.25" stroke="#ff5a5a" stroke-width="1.2"/>
<line x1="127.75" y1="387.5" x2="134.25" y2="387.5" stroke="#ff5a5a" stroke-width="1.2"/>
<line x1="127.75" y1="412.25" x2="134.25" y2="412.25" stroke="#ff5a5a" stroke-width="1.2"/>
<line x1="150" y1="359.75" x2="150" y2="390" stroke="#ff5a5a" stroke-width="1.2"/>
<line x1="146.75" y1="359.75" x2="153.25" y2="359.75" stroke="#ff5a5a" stroke-width="1.2"/>
<line x1="146.75" y1="390" x2="153.25" y2="390" stroke="#ff5a5a" stroke-width="1.2"/>
<line x1="168.75" y1="333.5" x2="168.75" y2="346" stroke="#ff5a5a" stroke-width="1.2"/>
<line x1="165.5" y1="333.5" x2="172" y2="333.5" stroke="#ff5a5a" stroke-width="1.2"/>
<line x1="165.5" y1="346" x2="172" y2="346" stroke="#ff5a5a" stroke-width="1.2"/>
<line x1="187.7" y1="315" x2="187.7" y2="323.6" stroke="#ff5a5a" stroke-width="1.2"/>
<line x1="184.45" y1="315" x2="190.95" y2="315" stroke="#ff5a5a" stroke-width="1.2"/>
<line x1="184.45" y1="323.6" x2="190.95" y2="323.6" stroke="#ff5a5a" stroke-width="1.2"/>
<line x1="206.5" y1="306.5" x2="206.5" y2="314.5" stroke="#ff5a5a" stroke-width="1.2"/>
<line x1="203.25" y1="306.5" x2="209.75" y2="306.5" stroke="#ff5a5a" stroke-width="1.2"/>
<line x1="203.25" y1="314.5" x2="209.75" y2="314.5" stroke="#ff5a5a" stroke-width="1.2"/>
<line x1="250.4" y1="304" x2="250.4" y2="312.4" stroke="#ff5a5a" stroke-width="1.2"/>
<line x1="247.15" y1="304" x2="253.65" y2="304" stroke="#ff5a5a" stroke-width="1.2"/>
<line x1="247.15" y1="312.4" x2="253.65" y2="312.4" stroke="#ff5a5a" stroke-width="1.2"/>
<polyline points="74.5,425.21 75.61,425.11 76.71,425 77.82,424.89 78.93,424.78 80.03,424.65 81.14,424.52 82.24,424.38 83.35,424.23 84.46,424.08 85.56,423.91 86.67,423.73 87.78,423.55 88.88,423.35 89.99,423.14 91.09,422.92 92.2,422.68 93.31,422.43 94.41,422.17 95.52,421.89 96.63,421.6 97.73,421.29 98.84,420.96 99.94,420.61 101.05,420.24 102.16,419.85 103.26,419.44 104.37,419.01 105.48,418.55 106.58,418.07 107.69,417.57 108.79,417.03 109.9,416.47 111.01,415.88 112.11,415.26 113.22,414.61 114.33,413.92 115.43,413.21 116.54,412.45 117.65,411.66 118.75,410.84 119.86,409.97 120.96,409.07 122.07,408.13 123.18,407.15 124.28,406.12 125.39,405.05 126.5,403.95 127.6,402.79 128.71,401.6 129.81,400.36 130.92,399.08 132.03,397.75 133.13,396.39 134.24,394.98 135.35,393.53 136.45,392.03 137.56,390.5 138.66,388.94 139.77,387.33 140.88,385.69 141.98,384.02 143.09,382.32 144.2,380.59 145.3,378.84 146.41,377.06 147.52,375.27 148.62,373.46 149.73,371.63 150.83,369.8 151.94,367.96 153.05,366.12 154.15,364.27 155.26,362.44 156.37,360.6 157.47,358.78 158.58,356.98 159.68,355.19 160.79,353.42 161.9,351.67 163,349.95 164.11,348.26 165.22,346.6 166.32,344.97 167.43,343.37 168.53,341.82 169.64,340.3 170.75,338.82 171.85,337.38 172.96,335.98 174.07,334.62 175.17,333.31 176.28,332.04 177.38,330.82 178.49,329.63 179.6,328.49 180.7,327.4 181.81,326.34 182.92,325.33 184.02,324.36 185.13,323.43 186.24,322.54 187.34,321.68 188.45,320.87 189.55,320.09 190.66,319.35 191.77,318.64 192.87,317.96 193.98,317.32 195.09,316.71 196.19,316.12 197.3,315.57 198.4,315.05 199.51,314.55 200.62,314.07 201.72,313.62 202.83,313.2 203.94,312.8 205.04,312.41 206.15,312.05 207.25,311.71 208.36,311.38 209.47,311.08 210.57,310.79 211.68,310.51 212.79,310.25 213.89,310.01 215,309.78 216.11,309.56 217.21,309.35 218.32,309.16 219.42,308.98 220.53,308.8 221.64,308.64 222.74,308.48 223.85,308.34 224.96,308.2 226.06,308.07 227.17,307.95 228.27,307.84 229.38,307.73 230.49,307.62 231.59,307.53 232.7,307.44 233.81,307.35 234.91,307.27 236.02,307.2 237.12,307.12 238.23,307.06 239.34,306.99 240.44,306.93 241.55,306.88 242.66,306.82 243.76,306.77 244.87,306.73 245.97,306.68 247.08,306.64 248.19,306.6 249.29,306.57 250.4,306.53" fill="none" stroke="#ff0000" stroke-width="2.0" stroke-linejoin="round"/>
<circle cx="74.5" cy="425" r="3.7" fill="#ff0000"/>
<circle cx="93.5" cy="428.6" r="3.7" fill="#ff0000"/>
<circle cx="112.4" cy="408.5" r="3.7" fill="#ff0000"/>
<circle cx="131" cy="400" r="3.7" fill="#ff0000"/>
<circle cx="150" cy="375" r="3.7" fill="#ff0000"/>
<circle cx="168.75" cy="340" r="3.7" fill="#ff0000"/>
<circle cx="187.7" cy="319.3" r="3.7" fill="#ff0000"/>
<circle cx="206.5" cy="310.5" r="3.7" fill="#ff0000"/>
<circle cx="250.4" cy="308.2" r="3.7" fill="#ff0000"/>
<line x1="71.5" y1="292.6" x2="89.6" y2="292.6" stroke="#ff0000" stroke-width="1.6"/>
<circle cx="80.55" cy="292.6" r="3.8" fill="#ff0000"/>
<text transform="translate(98.8 297) scale(1 1.09)" font-size="11.5" text-anchor="start" fill="#111111">anti-CD20 mAb</text>
<line x1="71.5" y1="306.8" x2="89.6" y2="306.8" stroke="#0000ff" stroke-width="1.6"/>
<rect x="77.05" y="303.3" width="7.0" height="7.0" fill="#0000ff"/>
<text transform="translate(98.8 311.2) scale(1 1.09)" font-size="11.5" text-anchor="start" fill="#111111">Rituxan</text>
<line x1="71.5" y1="320.3" x2="89.6" y2="320.3" stroke="#00c000" stroke-width="1.6"/>
<polygon points="80.55,316.7 76.7,323.9 84.4,323.9" fill="#00c000"/>
<text transform="translate(98.8 324.7) scale(1 1.09)" font-size="11.5" text-anchor="start" fill="#111111">Herceptin</text>
<line x1="405.1" y1="278.5" x2="405.1" y2="440.5" stroke="#333333" stroke-width="1.0"/>
<line x1="400.8" y1="440.5" x2="405.1" y2="440.5" stroke="#333333" stroke-width="1.0"/>
<text transform="translate(397.5 445) scale(1 1.09)" font-size="11.7" text-anchor="end" fill="#111111">-20</text>
<line x1="400.8" y1="413.5" x2="405.1" y2="413.5" stroke="#333333" stroke-width="1.0"/>
<text transform="translate(397.5 418) scale(1 1.09)" font-size="11.7" text-anchor="end" fill="#111111">0</text>
<line x1="400.8" y1="386.5" x2="405.1" y2="386.5" stroke="#333333" stroke-width="1.0"/>
<text transform="translate(397.5 391) scale(1 1.09)" font-size="11.7" text-anchor="end" fill="#111111">20</text>
<line x1="400.8" y1="359.5" x2="405.1" y2="359.5" stroke="#333333" stroke-width="1.0"/>
<text transform="translate(397.5 364) scale(1 1.09)" font-size="11.7" text-anchor="end" fill="#111111">40</text>
<line x1="400.8" y1="332.5" x2="405.1" y2="332.5" stroke="#333333" stroke-width="1.0"/>
<text transform="translate(397.5 337) scale(1 1.09)" font-size="11.7" text-anchor="end" fill="#111111">60</text>
<line x1="400.8" y1="305.5" x2="405.1" y2="305.5" stroke="#333333" stroke-width="1.0"/>
<text transform="translate(397.5 310) scale(1 1.09)" font-size="11.7" text-anchor="end" fill="#111111">80</text>
<line x1="400.8" y1="278.5" x2="405.1" y2="278.5" stroke="#333333" stroke-width="1.0"/>
<text transform="translate(397.5 283) scale(1 1.09)" font-size="11.7" text-anchor="end" fill="#111111">100</text>
<line x1="405.1" y1="427" x2="646.2" y2="427" stroke="#333333" stroke-width="1.0"/>
<line x1="426.23" y1="427" x2="426.23" y2="429.6" stroke="#333333" stroke-width="1.0"/>
<line x1="438.42" y1="427" x2="438.42" y2="429.6" stroke="#333333" stroke-width="1.0"/>
<line x1="447.06" y1="427" x2="447.06" y2="429.6" stroke="#333333" stroke-width="1.0"/>
<line x1="453.77" y1="427" x2="453.77" y2="429.6" stroke="#333333" stroke-width="1.0"/>
<line x1="459.25" y1="427" x2="459.25" y2="429.6" stroke="#333333" stroke-width="1.0"/>
<line x1="463.88" y1="427" x2="463.88" y2="429.6" stroke="#333333" stroke-width="1.0"/>
<line x1="467.89" y1="427" x2="467.89" y2="429.6" stroke="#333333" stroke-width="1.0"/>
<line x1="471.43" y1="427" x2="471.43" y2="429.6" stroke="#333333" stroke-width="1.0"/>
<line x1="495.43" y1="427" x2="495.43" y2="429.6" stroke="#333333" stroke-width="1.0"/>
<line x1="507.62" y1="427" x2="507.62" y2="429.6" stroke="#333333" stroke-width="1.0"/>
<line x1="516.26" y1="427" x2="516.26" y2="429.6" stroke="#333333" stroke-width="1.0"/>
<line x1="522.97" y1="427" x2="522.97" y2="429.6" stroke="#333333" stroke-width="1.0"/>
<line x1="528.45" y1="427" x2="528.45" y2="429.6" stroke="#333333" stroke-width="1.0"/>
<line x1="533.08" y1="427" x2="533.08" y2="429.6" stroke="#333333" stroke-width="1.0"/>
<line x1="537.09" y1="427" x2="537.09" y2="429.6" stroke="#333333" stroke-width="1.0"/>
<line x1="540.63" y1="427" x2="540.63" y2="429.6" stroke="#333333" stroke-width="1.0"/>
<line x1="564.63" y1="427" x2="564.63" y2="429.6" stroke="#333333" stroke-width="1.0"/>
<line x1="576.82" y1="427" x2="576.82" y2="429.6" stroke="#333333" stroke-width="1.0"/>
<line x1="585.46" y1="427" x2="585.46" y2="429.6" stroke="#333333" stroke-width="1.0"/>
<line x1="592.17" y1="427" x2="592.17" y2="429.6" stroke="#333333" stroke-width="1.0"/>
<line x1="597.65" y1="427" x2="597.65" y2="429.6" stroke="#333333" stroke-width="1.0"/>
<line x1="602.28" y1="427" x2="602.28" y2="429.6" stroke="#333333" stroke-width="1.0"/>
<line x1="606.29" y1="427" x2="606.29" y2="429.6" stroke="#333333" stroke-width="1.0"/>
<line x1="609.83" y1="427" x2="609.83" y2="429.6" stroke="#333333" stroke-width="1.0"/>
<line x1="633.83" y1="427" x2="633.83" y2="429.6" stroke="#333333" stroke-width="1.0"/>
<line x1="646.02" y1="427" x2="646.02" y2="429.6" stroke="#333333" stroke-width="1.0"/>
<line x1="646.2" y1="427" x2="646.2" y2="430.5" stroke="#333333" stroke-width="1.0"/>
<line x1="474.6" y1="427" x2="474.6" y2="431.4" stroke="#333333" stroke-width="1.0"/>
<text transform="translate(463.52 445) scale(1 1.09)" font-size="12.3" fill="#111111">10<tspan font-size="7.3" dy="-5.54">-2</tspan></text>
<line x1="543.8" y1="427" x2="543.8" y2="431.4" stroke="#333333" stroke-width="1.0"/>
<text transform="translate(533.72 445) scale(1 1.09)" font-size="12.3" fill="#111111">10<tspan font-size="7.3" dy="-5.54">-1</tspan></text>
<line x1="613" y1="427" x2="613" y2="431.4" stroke="#333333" stroke-width="1.0"/>
<text transform="translate(604.13 445) scale(1 1.09)" font-size="12.3" fill="#111111">10<tspan font-size="7.3" dy="-5.54">0</tspan></text>
<text transform="translate(526.1 465.2) scale(1 1.09)" font-size="11.6" text-anchor="middle" font-weight="bold" stroke="#111111" stroke-width="0.25" fill="#111111">Antibody concentration, µg/ml</text>
<text transform="translate(365.3 366.6) rotate(-90) scale(1 1.09)" font-size="11.45" text-anchor="middle" font-weight="bold" stroke="#111111" stroke-width="0.25" fill="#111111">% Target cell lysis</text>
<text transform="translate(354.4 269.3) scale(1 0.95)" font-size="16.5" text-anchor="start" font-weight="bold" stroke="#111111" stroke-width="0.25" fill="#111111">d</text>
<line x1="418.4" y1="392.5" x2="418.4" y2="416.3" stroke="#1ebe1e" stroke-width="1.2"/>
<line x1="415.15" y1="392.5" x2="421.65" y2="392.5" stroke="#1ebe1e" stroke-width="1.2"/>
<line x1="415.15" y1="416.3" x2="421.65" y2="416.3" stroke="#1ebe1e" stroke-width="1.2"/>
<line x1="467.2" y1="405.8" x2="467.2" y2="423" stroke="#1ebe1e" stroke-width="1.2"/>
<line x1="463.95" y1="405.8" x2="470.45" y2="405.8" stroke="#1ebe1e" stroke-width="1.2"/>
<line x1="463.95" y1="423" x2="470.45" y2="423" stroke="#1ebe1e" stroke-width="1.2"/>
<line x1="488" y1="395.8" x2="488" y2="421.5" stroke="#1ebe1e" stroke-width="1.2"/>
<line x1="484.75" y1="395.8" x2="491.25" y2="395.8" stroke="#1ebe1e" stroke-width="1.2"/>
<line x1="484.75" y1="421.5" x2="491.25" y2="421.5" stroke="#1ebe1e" stroke-width="1.2"/>
<line x1="508.8" y1="397.5" x2="508.8" y2="420.5" stroke="#1ebe1e" stroke-width="1.2"/>
<line x1="505.55" y1="397.5" x2="512.05" y2="397.5" stroke="#1ebe1e" stroke-width="1.2"/>
<line x1="505.55" y1="420.5" x2="512.05" y2="420.5" stroke="#1ebe1e" stroke-width="1.2"/>
<line x1="529.7" y1="402" x2="529.7" y2="420.1" stroke="#1ebe1e" stroke-width="1.2"/>
<line x1="526.45" y1="402" x2="532.95" y2="402" stroke="#1ebe1e" stroke-width="1.2"/>
<line x1="526.45" y1="420.1" x2="532.95" y2="420.1" stroke="#1ebe1e" stroke-width="1.2"/>
<line x1="550.7" y1="402.1" x2="550.7" y2="416.7" stroke="#1ebe1e" stroke-width="1.2"/>
<line x1="547.45" y1="402.1" x2="553.95" y2="402.1" stroke="#1ebe1e" stroke-width="1.2"/>
<line x1="547.45" y1="416.7" x2="553.95" y2="416.7" stroke="#1ebe1e" stroke-width="1.2"/>
<line x1="571.6" y1="403.6" x2="571.6" y2="423" stroke="#1ebe1e" stroke-width="1.2"/>
<line x1="568.35" y1="403.6" x2="574.85" y2="403.6" stroke="#1ebe1e" stroke-width="1.2"/>
<line x1="568.35" y1="423" x2="574.85" y2="423" stroke="#1ebe1e" stroke-width="1.2"/>
<line x1="592.5" y1="412.5" x2="592.5" y2="430.6" stroke="#1ebe1e" stroke-width="1.2"/>
<line x1="589.25" y1="412.5" x2="595.75" y2="412.5" stroke="#1ebe1e" stroke-width="1.2"/>
<line x1="589.25" y1="430.6" x2="595.75" y2="430.6" stroke="#1ebe1e" stroke-width="1.2"/>
<line x1="613.3" y1="409.4" x2="613.3" y2="440.4" stroke="#1ebe1e" stroke-width="1.2"/>
<line x1="610.05" y1="409.4" x2="616.55" y2="409.4" stroke="#1ebe1e" stroke-width="1.2"/>
<line x1="610.05" y1="440.4" x2="616.55" y2="440.4" stroke="#1ebe1e" stroke-width="1.2"/>
<line x1="634.2" y1="415.5" x2="634.2" y2="439.3" stroke="#1ebe1e" stroke-width="1.2"/>
<line x1="630.95" y1="415.5" x2="637.45" y2="415.5" stroke="#1ebe1e" stroke-width="1.2"/>
<line x1="630.95" y1="439.3" x2="637.45" y2="439.3" stroke="#1ebe1e" stroke-width="1.2"/>
<polygon points="418.4,400.7 414.55,408.1 422.25,408.1" fill="#00c000"/>
<polygon points="467.2,410.8 463.35,418.2 471.05,418.2" fill="#00c000"/>
<polygon points="488,404.8 484.15,412.2 491.85,412.2" fill="#00c000"/>
<polygon points="508.8,405.3 504.95,412.7 512.65,412.7" fill="#00c000"/>
<polygon points="529.7,408.8 525.85,416.2 533.55,416.2" fill="#00c000"/>
<polygon points="550.7,406.55 546.85,413.95 554.55,413.95" fill="#00c000"/>
<polygon points="571.6,410 567.75,417.4 575.45,417.4" fill="#00c000"/>
<polygon points="592.5,418.2 588.65,425.6 596.35,425.6" fill="#00c000"/>
<polygon points="613.3,421.7 609.45,429.1 617.15,429.1" fill="#00c000"/>
<polygon points="634.2,424 630.35,431.4 638.05,431.4" fill="#00c000"/>
<line x1="418.4" y1="407.5" x2="418.4" y2="422.5" stroke="#2020ff" stroke-width="1.2"/>
<line x1="415.15" y1="407.5" x2="421.65" y2="407.5" stroke="#2020ff" stroke-width="1.2"/>
<line x1="415.15" y1="422.5" x2="421.65" y2="422.5" stroke="#2020ff" stroke-width="1.2"/>
<line x1="467.2" y1="417" x2="467.2" y2="428" stroke="#2020ff" stroke-width="1.2"/>
<line x1="463.95" y1="417" x2="470.45" y2="417" stroke="#2020ff" stroke-width="1.2"/>
<line x1="463.95" y1="428" x2="470.45" y2="428" stroke="#2020ff" stroke-width="1.2"/>
<line x1="488" y1="412" x2="488" y2="433.1" stroke="#2020ff" stroke-width="1.2"/>
<line x1="484.75" y1="412" x2="491.25" y2="412" stroke="#2020ff" stroke-width="1.2"/>
<line x1="484.75" y1="433.1" x2="491.25" y2="433.1" stroke="#2020ff" stroke-width="1.2"/>
<line x1="508.8" y1="403.2" x2="508.8" y2="426.8" stroke="#2020ff" stroke-width="1.2"/>
<line x1="505.55" y1="403.2" x2="512.05" y2="403.2" stroke="#2020ff" stroke-width="1.2"/>
<line x1="505.55" y1="426.8" x2="512.05" y2="426.8" stroke="#2020ff" stroke-width="1.2"/>
<line x1="529.7" y1="377.5" x2="529.7" y2="401.5" stroke="#2020ff" stroke-width="1.2"/>
<line x1="526.45" y1="377.5" x2="532.95" y2="377.5" stroke="#2020ff" stroke-width="1.2"/>
<line x1="526.45" y1="401.5" x2="532.95" y2="401.5" stroke="#2020ff" stroke-width="1.2"/>
<line x1="550.7" y1="357.25" x2="550.7" y2="381.25" stroke="#2020ff" stroke-width="1.2"/>
<line x1="547.45" y1="357.25" x2="553.95" y2="357.25" stroke="#2020ff" stroke-width="1.2"/>
<line x1="547.45" y1="381.25" x2="553.95" y2="381.25" stroke="#2020ff" stroke-width="1.2"/>
<line x1="571.6" y1="331.3" x2="571.6" y2="343.2" stroke="#2020ff" stroke-width="1.2"/>
<line x1="568.35" y1="331.3" x2="574.85" y2="331.3" stroke="#2020ff" stroke-width="1.2"/>
<line x1="568.35" y1="343.2" x2="574.85" y2="343.2" stroke="#2020ff" stroke-width="1.2"/>
<line x1="592.5" y1="329.8" x2="592.5" y2="339" stroke="#2020ff" stroke-width="1.2"/>
<line x1="589.25" y1="329.8" x2="595.75" y2="329.8" stroke="#2020ff" stroke-width="1.2"/>
<line x1="589.25" y1="339" x2="595.75" y2="339" stroke="#2020ff" stroke-width="1.2"/>
<line x1="613.3" y1="328.5" x2="613.3" y2="332" stroke="#2020ff" stroke-width="1.2"/>
<line x1="610.05" y1="328.5" x2="616.55" y2="328.5" stroke="#2020ff" stroke-width="1.2"/>
<line x1="610.05" y1="332" x2="616.55" y2="332" stroke="#2020ff" stroke-width="1.2"/>
<line x1="634.2" y1="322" x2="634.2" y2="331.3" stroke="#2020ff" stroke-width="1.2"/>
<line x1="630.95" y1="322" x2="637.45" y2="322" stroke="#2020ff" stroke-width="1.2"/>
<line x1="630.95" y1="331.3" x2="637.45" y2="331.3" stroke="#2020ff" stroke-width="1.2"/>
<polyline points="418.4,413.58 419.76,413.58 421.11,413.57 422.47,413.57 423.83,413.57 425.19,413.57 426.54,413.57 427.9,413.57 429.26,413.57 430.62,413.56 431.97,413.56 433.33,413.56 434.69,413.56 436.04,413.56 437.4,413.55 438.76,413.55 440.12,413.55 441.47,413.54 442.83,413.54 444.19,413.53 445.54,413.53 446.9,413.52 448.26,413.52 449.62,413.51 450.97,413.5 452.33,413.49 453.69,413.48 455.05,413.47 456.4,413.46 457.76,413.45 459.12,413.44 460.47,413.42 461.83,413.4 463.19,413.39 464.55,413.37 465.9,413.34 467.26,413.32 468.62,413.29 469.97,413.26 471.33,413.23 472.69,413.2 474.05,413.16 475.4,413.11 476.76,413.07 478.12,413.01 479.48,412.96 480.83,412.89 482.19,412.82 483.55,412.75 484.9,412.66 486.26,412.57 487.62,412.47 488.98,412.36 490.33,412.24 491.69,412.1 493.05,411.96 494.41,411.8 495.76,411.62 497.12,411.43 498.48,411.21 499.83,410.98 501.19,410.73 502.55,410.45 503.91,410.14 505.26,409.81 506.62,409.45 507.98,409.05 509.33,408.62 510.69,408.15 512.05,407.64 513.41,407.08 514.76,406.47 516.12,405.82 517.48,405.11 518.84,404.35 520.19,403.52 521.55,402.63 522.91,401.68 524.26,400.65 525.62,399.56 526.98,398.39 528.34,397.15 529.69,395.83 531.05,394.43 532.41,392.96 533.76,391.41 535.12,389.79 536.48,388.09 537.84,386.33 539.19,384.51 540.55,382.62 541.91,380.69 543.27,378.71 544.62,376.69 545.98,374.65 547.34,372.59 548.69,370.52 550.05,368.45 551.41,366.39 552.77,364.35 554.12,362.34 555.48,360.36 556.84,358.43 558.19,356.55 559.55,354.73 560.91,352.97 562.27,351.28 563.62,349.66 564.98,348.12 566.34,346.65 567.7,345.26 569.05,343.95 570.41,342.71 571.77,341.55 573.12,340.46 574.48,339.44 575.84,338.49 577.2,337.6 578.55,336.78 579.91,336.02 581.27,335.32 582.63,334.67 583.98,334.07 585.34,333.51 586.7,333 588.05,332.54 589.41,332.11 590.77,331.71 592.13,331.35 593.48,331.02 594.84,330.72 596.2,330.44 597.55,330.19 598.91,329.96 600.27,329.74 601.63,329.55 602.98,329.38 604.34,329.22 605.7,329.07 607.06,328.94 608.41,328.82 609.77,328.71 611.13,328.61 612.48,328.51 613.84,328.43 615.2,328.36 616.56,328.29 617.91,328.22 619.27,328.17 620.63,328.12 621.98,328.07 623.34,328.03 624.7,327.99 626.06,327.95 627.41,327.92 628.77,327.89 630.13,327.86 631.49,327.84 632.84,327.82 634.2,327.8" fill="none" stroke="#0000ff" stroke-width="2.0" stroke-linejoin="round"/>
<rect x="414.95" y="411.55" width="6.9" height="6.9" fill="#0000ff"/>
<rect x="463.75" y="419.05" width="6.9" height="6.9" fill="#0000ff"/>
<rect x="484.55" y="419.05" width="6.9" height="6.9" fill="#0000ff"/>
<rect x="505.35" y="411.65" width="6.9" height="6.9" fill="#0000ff"/>
<rect x="526.25" y="386.15" width="6.9" height="6.9" fill="#0000ff"/>
<rect x="547.25" y="365.95" width="6.9" height="6.9" fill="#0000ff"/>
<rect x="568.15" y="333.75" width="6.9" height="6.9" fill="#0000ff"/>
<rect x="589.05" y="330.95" width="6.9" height="6.9" fill="#0000ff"/>
<rect x="609.85" y="326.85" width="6.9" height="6.9" fill="#0000ff"/>
<rect x="630.75" y="323.25" width="6.9" height="6.9" fill="#0000ff"/>
<line x1="418.4" y1="410.6" x2="418.4" y2="427.5" stroke="#ff2020" stroke-width="1.2"/>
<line x1="415.15" y1="410.6" x2="421.65" y2="410.6" stroke="#ff2020" stroke-width="1.2"/>
<line x1="415.15" y1="427.5" x2="421.65" y2="427.5" stroke="#ff2020" stroke-width="1.2"/>
<line x1="467.2" y1="405.8" x2="467.2" y2="425.2" stroke="#ff2020" stroke-width="1.2"/>
<line x1="463.95" y1="405.8" x2="470.45" y2="405.8" stroke="#ff2020" stroke-width="1.2"/>
<line x1="463.95" y1="425.2" x2="470.45" y2="425.2" stroke="#ff2020" stroke-width="1.2"/>
<line x1="488" y1="405.8" x2="488" y2="425.2" stroke="#ff2020" stroke-width="1.2"/>
<line x1="484.75" y1="405.8" x2="491.25" y2="405.8" stroke="#ff2020" stroke-width="1.2"/>
<line x1="484.75" y1="425.2" x2="491.25" y2="425.2" stroke="#ff2020" stroke-width="1.2"/>
<line x1="508.8" y1="384.8" x2="508.8" y2="400.8" stroke="#ff2020" stroke-width="1.2"/>
<line x1="505.55" y1="384.8" x2="512.05" y2="384.8" stroke="#ff2020" stroke-width="1.2"/>
<line x1="505.55" y1="400.8" x2="512.05" y2="400.8" stroke="#ff2020" stroke-width="1.2"/>
<line x1="529.7" y1="356.25" x2="529.7" y2="373.5" stroke="#ff2020" stroke-width="1.2"/>
<line x1="526.45" y1="356.25" x2="532.95" y2="356.25" stroke="#ff2020" stroke-width="1.2"/>
<line x1="526.45" y1="373.5" x2="532.95" y2="373.5" stroke="#ff2020" stroke-width="1.2"/>
<line x1="550.7" y1="342.5" x2="550.7" y2="349.4" stroke="#ff2020" stroke-width="1.2"/>
<line x1="547.45" y1="342.5" x2="553.95" y2="342.5" stroke="#ff2020" stroke-width="1.2"/>
<line x1="547.45" y1="349.4" x2="553.95" y2="349.4" stroke="#ff2020" stroke-width="1.2"/>
<line x1="571.6" y1="324.5" x2="571.6" y2="328" stroke="#ff2020" stroke-width="1.2"/>
<line x1="568.35" y1="324.5" x2="574.85" y2="324.5" stroke="#ff2020" stroke-width="1.2"/>
<line x1="568.35" y1="328" x2="574.85" y2="328" stroke="#ff2020" stroke-width="1.2"/>
<line x1="592.5" y1="326.5" x2="592.5" y2="330.5" stroke="#ff2020" stroke-width="1.2"/>
<line x1="589.25" y1="326.5" x2="595.75" y2="326.5" stroke="#ff2020" stroke-width="1.2"/>
<line x1="589.25" y1="330.5" x2="595.75" y2="330.5" stroke="#ff2020" stroke-width="1.2"/>
<line x1="613.3" y1="318.5" x2="613.3" y2="327.5" stroke="#ff2020" stroke-width="1.2"/>
<line x1="610.05" y1="318.5" x2="616.55" y2="318.5" stroke="#ff2020" stroke-width="1.2"/>
<line x1="610.05" y1="327.5" x2="616.55" y2="327.5" stroke="#ff2020" stroke-width="1.2"/>
<line x1="634.2" y1="320.5" x2="634.2" y2="324" stroke="#ff2020" stroke-width="1.2"/>
<line x1="630.95" y1="320.5" x2="637.45" y2="320.5" stroke="#ff2020" stroke-width="1.2"/>
<line x1="630.95" y1="324" x2="637.45" y2="324" stroke="#ff2020" stroke-width="1.2"/>
<polyline points="418.4,414.31 419.76,414.3 421.11,414.3 422.47,414.29 423.83,414.28 425.19,414.26 426.54,414.25 427.9,414.24 429.26,414.22 430.62,414.21 431.97,414.19 433.33,414.17 434.69,414.15 436.04,414.13 437.4,414.1 438.76,414.08 440.12,414.05 441.47,414.02 442.83,413.98 444.19,413.94 445.54,413.9 446.9,413.86 448.26,413.81 449.62,413.76 450.97,413.7 452.33,413.64 453.69,413.58 455.05,413.5 456.4,413.42 457.76,413.34 459.12,413.25 460.47,413.14 461.83,413.03 463.19,412.92 464.55,412.79 465.9,412.65 467.26,412.5 468.62,412.33 469.97,412.15 471.33,411.96 472.69,411.75 474.05,411.52 475.4,411.28 476.76,411.01 478.12,410.73 479.48,410.42 480.83,410.08 482.19,409.72 483.55,409.33 484.9,408.91 486.26,408.46 487.62,407.97 488.98,407.45 490.33,406.89 491.69,406.28 493.05,405.64 494.41,404.94 495.76,404.2 497.12,403.42 498.48,402.57 499.83,401.68 501.19,400.73 502.55,399.72 503.91,398.65 505.26,397.52 506.62,396.32 507.98,395.07 509.33,393.76 510.69,392.38 512.05,390.94 513.41,389.44 514.76,387.89 516.12,386.28 517.48,384.61 518.84,382.9 520.19,381.14 521.55,379.34 522.91,377.51 524.26,375.65 525.62,373.77 526.98,371.87 528.34,369.96 529.69,368.04 531.05,366.13 532.41,364.24 533.76,362.35 535.12,360.49 536.48,358.67 537.84,356.87 539.19,355.12 540.55,353.41 541.91,351.75 543.27,350.14 544.62,348.59 545.98,347.1 547.34,345.66 548.69,344.29 550.05,342.98 551.41,341.73 552.77,340.55 554.12,339.42 555.48,338.36 556.84,337.35 558.19,336.4 559.55,335.51 560.91,334.67 562.27,333.89 563.62,333.15 564.98,332.46 566.34,331.82 567.7,331.22 569.05,330.66 570.41,330.14 571.77,329.66 573.12,329.21 574.48,328.79 575.84,328.4 577.2,328.04 578.55,327.71 579.91,327.4 581.27,327.12 582.63,326.85 583.98,326.61 585.34,326.39 586.7,326.18 588.05,325.99 589.41,325.81 590.77,325.65 592.13,325.49 593.48,325.36 594.84,325.23 596.2,325.11 597.55,325 598.91,324.9 600.27,324.81 601.63,324.72 602.98,324.64 604.34,324.57 605.7,324.51 607.06,324.45 608.41,324.39 609.77,324.34 611.13,324.29 612.48,324.25 613.84,324.21 615.2,324.17 616.56,324.13 617.91,324.1 619.27,324.07 620.63,324.05 621.98,324.02 623.34,324 624.7,323.98 626.06,323.96 627.41,323.94 628.77,323.93 630.13,323.91 631.49,323.9 632.84,323.89 634.2,323.88" fill="none" stroke="#ff0000" stroke-width="2.0" stroke-linejoin="round"/>
<circle cx="418.4" cy="419" r="3.7" fill="#ff0000"/>
<circle cx="467.2" cy="415.6" r="3.7" fill="#ff0000"/>
<circle cx="488" cy="415.6" r="3.7" fill="#ff0000"/>
<circle cx="508.8" cy="393.2" r="3.7" fill="#ff0000"/>
<circle cx="529.7" cy="365" r="3.7" fill="#ff0000"/>
<circle cx="550.7" cy="346" r="3.7" fill="#ff0000"/>
<circle cx="571.6" cy="326.2" r="3.7" fill="#ff0000"/>
<circle cx="592.5" cy="328.5" r="3.7" fill="#ff0000"/>
<circle cx="613.3" cy="323" r="3.7" fill="#ff0000"/>
<circle cx="634.2" cy="322.3" r="3.7" fill="#ff0000"/>
<line x1="414.2" y1="288.3" x2="431.8" y2="288.3" stroke="#ff0000" stroke-width="1.6"/>
<circle cx="423" cy="288.3" r="3.8" fill="#ff0000"/>
<text transform="translate(441.1 292.7) scale(1 1.09)" font-size="11.5" text-anchor="start" fill="#111111">anti-CD20 mAb</text>
<line x1="414.2" y1="302.6" x2="431.8" y2="302.6" stroke="#0000ff" stroke-width="1.6"/>
<rect x="419.5" y="299.1" width="7.0" height="7.0" fill="#0000ff"/>
<text transform="translate(441.1 307) scale(1 1.09)" font-size="11.5" text-anchor="start" fill="#111111">Rituxan</text>
<line x1="414.2" y1="316" x2="431.8" y2="316" stroke="#00c000" stroke-width="1.6"/>
<polygon points="423,312.4 419.15,319.6 426.85,319.6" fill="#00c000"/>
<text transform="translate(441.1 320.4) scale(1 1.09)" font-size="11.5" text-anchor="start" fill="#111111">Herceptin</text>
<line x1="228.1" y1="504.4" x2="228.1" y2="672.3" stroke="#333333" stroke-width="1.0"/>
<line x1="223.3" y1="672.28" x2="228.1" y2="672.28" stroke="#333333" stroke-width="1.0"/>
<text transform="translate(219.2 676.78) scale(1 1.09)" font-size="11.4" text-anchor="end" fill="#111111">-20</text>
<line x1="223.3" y1="644.3" x2="228.1" y2="644.3" stroke="#333333" stroke-width="1.0"/>
<text transform="translate(219.2 648.8) scale(1 1.09)" font-size="11.4" text-anchor="end" fill="#111111">0</text>
<line x1="223.3" y1="616.32" x2="228.1" y2="616.32" stroke="#333333" stroke-width="1.0"/>
<text transform="translate(219.2 620.82) scale(1 1.09)" font-size="11.4" text-anchor="end" fill="#111111">20</text>
<line x1="223.3" y1="588.34" x2="228.1" y2="588.34" stroke="#333333" stroke-width="1.0"/>
<text transform="translate(219.2 592.84) scale(1 1.09)" font-size="11.4" text-anchor="end" fill="#111111">40</text>
<line x1="223.3" y1="560.36" x2="228.1" y2="560.36" stroke="#333333" stroke-width="1.0"/>
<text transform="translate(219.2 564.86) scale(1 1.09)" font-size="11.4" text-anchor="end" fill="#111111">60</text>
<line x1="223.3" y1="532.38" x2="228.1" y2="532.38" stroke="#333333" stroke-width="1.0"/>
<text transform="translate(219.2 536.88) scale(1 1.09)" font-size="11.4" text-anchor="end" fill="#111111">80</text>
<line x1="223.3" y1="504.4" x2="228.1" y2="504.4" stroke="#333333" stroke-width="1.0"/>
<text transform="translate(219.2 508.9) scale(1 1.09)" font-size="11.4" text-anchor="end" fill="#111111">100</text>
<line x1="228.1" y1="644.4" x2="481.3" y2="644.4" stroke="#333333" stroke-width="1.0"/>
<line x1="237.72" y1="644.4" x2="237.72" y2="646.8" stroke="#333333" stroke-width="1.0"/>
<line x1="243.3" y1="644.4" x2="243.3" y2="646.8" stroke="#333333" stroke-width="1.0"/>
<line x1="247.25" y1="644.4" x2="247.25" y2="646.8" stroke="#333333" stroke-width="1.0"/>
<line x1="250.32" y1="644.4" x2="250.32" y2="646.8" stroke="#333333" stroke-width="1.0"/>
<line x1="252.82" y1="644.4" x2="252.82" y2="646.8" stroke="#333333" stroke-width="1.0"/>
<line x1="254.94" y1="644.4" x2="254.94" y2="646.8" stroke="#333333" stroke-width="1.0"/>
<line x1="256.77" y1="644.4" x2="256.77" y2="646.8" stroke="#333333" stroke-width="1.0"/>
<line x1="258.39" y1="644.4" x2="258.39" y2="646.8" stroke="#333333" stroke-width="1.0"/>
<line x1="269.36" y1="644.4" x2="269.36" y2="646.8" stroke="#333333" stroke-width="1.0"/>
<line x1="274.94" y1="644.4" x2="274.94" y2="646.8" stroke="#333333" stroke-width="1.0"/>
<line x1="278.89" y1="644.4" x2="278.89" y2="646.8" stroke="#333333" stroke-width="1.0"/>
<line x1="281.96" y1="644.4" x2="281.96" y2="646.8" stroke="#333333" stroke-width="1.0"/>
<line x1="284.46" y1="644.4" x2="284.46" y2="646.8" stroke="#333333" stroke-width="1.0"/>
<line x1="286.58" y1="644.4" x2="286.58" y2="646.8" stroke="#333333" stroke-width="1.0"/>
<line x1="288.41" y1="644.4" x2="288.41" y2="646.8" stroke="#333333" stroke-width="1.0"/>
<line x1="290.03" y1="644.4" x2="290.03" y2="646.8" stroke="#333333" stroke-width="1.0"/>
<line x1="301" y1="644.4" x2="301" y2="646.8" stroke="#333333" stroke-width="1.0"/>
<line x1="306.58" y1="644.4" x2="306.58" y2="646.8" stroke="#333333" stroke-width="1.0"/>
<line x1="310.53" y1="644.4" x2="310.53" y2="646.8" stroke="#333333" stroke-width="1.0"/>
<line x1="313.6" y1="644.4" x2="313.6" y2="646.8" stroke="#333333" stroke-width="1.0"/>
<line x1="316.1" y1="644.4" x2="316.1" y2="646.8" stroke="#333333" stroke-width="1.0"/>
<line x1="318.22" y1="644.4" x2="318.22" y2="646.8" stroke="#333333" stroke-width="1.0"/>
<line x1="320.05" y1="644.4" x2="320.05" y2="646.8" stroke="#333333" stroke-width="1.0"/>
<line x1="321.67" y1="644.4" x2="321.67" y2="646.8" stroke="#333333" stroke-width="1.0"/>
<line x1="332.64" y1="644.4" x2="332.64" y2="646.8" stroke="#333333" stroke-width="1.0"/>
<line x1="338.22" y1="644.4" x2="338.22" y2="646.8" stroke="#333333" stroke-width="1.0"/>
<line x1="342.17" y1="644.4" x2="342.17" y2="646.8" stroke="#333333" stroke-width="1.0"/>
<line x1="345.24" y1="644.4" x2="345.24" y2="646.8" stroke="#333333" stroke-width="1.0"/>
<line x1="347.74" y1="644.4" x2="347.74" y2="646.8" stroke="#333333" stroke-width="1.0"/>
<line x1="349.86" y1="644.4" x2="349.86" y2="646.8" stroke="#333333" stroke-width="1.0"/>
<line x1="351.69" y1="644.4" x2="351.69" y2="646.8" stroke="#333333" stroke-width="1.0"/>
<line x1="353.31" y1="644.4" x2="353.31" y2="646.8" stroke="#333333" stroke-width="1.0"/>
<line x1="364.28" y1="644.4" x2="364.28" y2="646.8" stroke="#333333" stroke-width="1.0"/>
<line x1="369.86" y1="644.4" x2="369.86" y2="646.8" stroke="#333333" stroke-width="1.0"/>
<line x1="373.81" y1="644.4" x2="373.81" y2="646.8" stroke="#333333" stroke-width="1.0"/>
<line x1="376.88" y1="644.4" x2="376.88" y2="646.8" stroke="#333333" stroke-width="1.0"/>
<line x1="379.38" y1="644.4" x2="379.38" y2="646.8" stroke="#333333" stroke-width="1.0"/>
<line x1="381.5" y1="644.4" x2="381.5" y2="646.8" stroke="#333333" stroke-width="1.0"/>
<line x1="383.33" y1="644.4" x2="383.33" y2="646.8" stroke="#333333" stroke-width="1.0"/>
<line x1="384.95" y1="644.4" x2="384.95" y2="646.8" stroke="#333333" stroke-width="1.0"/>
<line x1="395.92" y1="644.4" x2="395.92" y2="646.8" stroke="#333333" stroke-width="1.0"/>
<line x1="401.5" y1="644.4" x2="401.5" y2="646.8" stroke="#333333" stroke-width="1.0"/>
<line x1="405.45" y1="644.4" x2="405.45" y2="646.8" stroke="#333333" stroke-width="1.0"/>
<line x1="408.52" y1="644.4" x2="408.52" y2="646.8" stroke="#333333" stroke-width="1.0"/>
<line x1="411.02" y1="644.4" x2="411.02" y2="646.8" stroke="#333333" stroke-width="1.0"/>
<line x1="413.14" y1="644.4" x2="413.14" y2="646.8" stroke="#333333" stroke-width="1.0"/>
<line x1="414.97" y1="644.4" x2="414.97" y2="646.8" stroke="#333333" stroke-width="1.0"/>
<line x1="416.59" y1="644.4" x2="416.59" y2="646.8" stroke="#333333" stroke-width="1.0"/>
<line x1="427.56" y1="644.4" x2="427.56" y2="646.8" stroke="#333333" stroke-width="1.0"/>
<line x1="433.14" y1="644.4" x2="433.14" y2="646.8" stroke="#333333" stroke-width="1.0"/>
<line x1="437.09" y1="644.4" x2="437.09" y2="646.8" stroke="#333333" stroke-width="1.0"/>
<line x1="440.16" y1="644.4" x2="440.16" y2="646.8" stroke="#333333" stroke-width="1.0"/>
<line x1="442.66" y1="644.4" x2="442.66" y2="646.8" stroke="#333333" stroke-width="1.0"/>
<line x1="444.78" y1="644.4" x2="444.78" y2="646.8" stroke="#333333" stroke-width="1.0"/>
<line x1="446.61" y1="644.4" x2="446.61" y2="646.8" stroke="#333333" stroke-width="1.0"/>
<line x1="448.23" y1="644.4" x2="448.23" y2="646.8" stroke="#333333" stroke-width="1.0"/>
<line x1="459.2" y1="644.4" x2="459.2" y2="646.8" stroke="#333333" stroke-width="1.0"/>
<line x1="464.78" y1="644.4" x2="464.78" y2="646.8" stroke="#333333" stroke-width="1.0"/>
<line x1="468.73" y1="644.4" x2="468.73" y2="646.8" stroke="#333333" stroke-width="1.0"/>
<line x1="471.8" y1="644.4" x2="471.8" y2="646.8" stroke="#333333" stroke-width="1.0"/>
<line x1="474.3" y1="644.4" x2="474.3" y2="646.8" stroke="#333333" stroke-width="1.0"/>
<line x1="476.42" y1="644.4" x2="476.42" y2="646.8" stroke="#333333" stroke-width="1.0"/>
<line x1="478.25" y1="644.4" x2="478.25" y2="646.8" stroke="#333333" stroke-width="1.0"/>
<line x1="479.87" y1="644.4" x2="479.87" y2="646.8" stroke="#333333" stroke-width="1.0"/>
<line x1="259.84" y1="644.4" x2="259.84" y2="648.7" stroke="#333333" stroke-width="1.0"/>
<text transform="translate(249.75 662.3) scale(1 1.09)" font-size="12.4" fill="#111111">10<tspan font-size="7.2" dy="-5.58">-3</tspan></text>
<line x1="291.48" y1="644.4" x2="291.48" y2="648.7" stroke="#333333" stroke-width="1.0"/>
<text transform="translate(283.19 662.3) scale(1 1.09)" font-size="12.4" fill="#111111">10<tspan font-size="7.2" dy="-5.58">-2</tspan></text>
<line x1="323.12" y1="644.4" x2="323.12" y2="648.7" stroke="#333333" stroke-width="1.0"/>
<text transform="translate(313.43 662.3) scale(1 1.09)" font-size="12.4" fill="#111111">10<tspan font-size="7.2" dy="-5.58">-1</tspan></text>
<line x1="354.76" y1="644.4" x2="354.76" y2="648.7" stroke="#333333" stroke-width="1.0"/>
<text transform="translate(345.86 662.3) scale(1 1.09)" font-size="12.4" fill="#111111">10<tspan font-size="7.2" dy="-5.58">0</tspan></text>
<line x1="386.4" y1="644.4" x2="386.4" y2="648.7" stroke="#333333" stroke-width="1.0"/>
<text transform="translate(377.5 662.3) scale(1 1.09)" font-size="12.4" fill="#111111">10<tspan font-size="7.2" dy="-5.58">1</tspan></text>
<line x1="418.04" y1="644.4" x2="418.04" y2="648.7" stroke="#333333" stroke-width="1.0"/>
<text transform="translate(409.14 662.3) scale(1 1.09)" font-size="12.4" fill="#111111">10<tspan font-size="7.2" dy="-5.58">2</tspan></text>
<line x1="449.68" y1="644.4" x2="449.68" y2="648.7" stroke="#333333" stroke-width="1.0"/>
<text transform="translate(440.78 662.3) scale(1 1.09)" font-size="12.4" fill="#111111">10<tspan font-size="7.2" dy="-5.58">3</tspan></text>
<line x1="481.32" y1="644.4" x2="481.32" y2="648.7" stroke="#333333" stroke-width="1.0"/>
<text transform="translate(471.92 662.3) scale(1 1.09)" font-size="12.4" fill="#111111">10<tspan font-size="7.2" dy="-5.58">4</tspan></text>
<text transform="translate(355 680.7) scale(1 1.09)" font-size="11.5" text-anchor="middle" font-weight="bold" stroke="#111111" stroke-width="0.25" fill="#111111">Antibody concentration, ng/ml</text>
<text transform="translate(185.7 588) rotate(-90) scale(1 1.09)" font-size="11.45" text-anchor="middle" font-weight="bold" stroke="#111111" stroke-width="0.25" fill="#111111">% Target cell lysis</text>
<text transform="translate(175.4 497.5) scale(1 1.0)" font-size="16.5" text-anchor="start" font-weight="bold" stroke="#111111" stroke-width="0.25" fill="#111111">e</text>
<line x1="269.75" y1="648" x2="269.75" y2="653" stroke="#1ebe1e" stroke-width="1.2"/>
<line x1="266.5" y1="648" x2="273" y2="648" stroke="#1ebe1e" stroke-width="1.2"/>
<line x1="266.5" y1="653" x2="273" y2="653" stroke="#1ebe1e" stroke-width="1.2"/>
<line x1="301.4" y1="645.5" x2="301.4" y2="650" stroke="#1ebe1e" stroke-width="1.2"/>
<line x1="298.15" y1="645.5" x2="304.65" y2="645.5" stroke="#1ebe1e" stroke-width="1.2"/>
<line x1="298.15" y1="650" x2="304.65" y2="650" stroke="#1ebe1e" stroke-width="1.2"/>
<line x1="333.1" y1="644.5" x2="333.1" y2="649.3" stroke="#1ebe1e" stroke-width="1.2"/>
<line x1="329.85" y1="644.5" x2="336.35" y2="644.5" stroke="#1ebe1e" stroke-width="1.2"/>
<line x1="329.85" y1="649.3" x2="336.35" y2="649.3" stroke="#1ebe1e" stroke-width="1.2"/>
<line x1="348.1" y1="651" x2="348.1" y2="655.2" stroke="#1ebe1e" stroke-width="1.2"/>
<line x1="344.85" y1="651" x2="351.35" y2="651" stroke="#1ebe1e" stroke-width="1.2"/>
<line x1="344.85" y1="655.2" x2="351.35" y2="655.2" stroke="#1ebe1e" stroke-width="1.2"/>
<line x1="363.3" y1="649" x2="363.3" y2="653.5" stroke="#1ebe1e" stroke-width="1.2"/>
<line x1="360.05" y1="649" x2="366.55" y2="649" stroke="#1ebe1e" stroke-width="1.2"/>
<line x1="360.05" y1="653.5" x2="366.55" y2="653.5" stroke="#1ebe1e" stroke-width="1.2"/>
<line x1="378.5" y1="641.25" x2="378.5" y2="651" stroke="#1ebe1e" stroke-width="1.2"/>
<line x1="375.25" y1="641.25" x2="381.75" y2="641.25" stroke="#1ebe1e" stroke-width="1.2"/>
<line x1="375.25" y1="651" x2="381.75" y2="651" stroke="#1ebe1e" stroke-width="1.2"/>
<line x1="393.1" y1="651.5" x2="393.1" y2="656" stroke="#1ebe1e" stroke-width="1.2"/>
<line x1="389.85" y1="651.5" x2="396.35" y2="651.5" stroke="#1ebe1e" stroke-width="1.2"/>
<line x1="389.85" y1="656" x2="396.35" y2="656" stroke="#1ebe1e" stroke-width="1.2"/>
<line x1="408.6" y1="638" x2="408.6" y2="642.6" stroke="#1ebe1e" stroke-width="1.2"/>
<line x1="405.35" y1="638" x2="411.85" y2="638" stroke="#1ebe1e" stroke-width="1.2"/>
<line x1="405.35" y1="642.6" x2="411.85" y2="642.6" stroke="#1ebe1e" stroke-width="1.2"/>
<line x1="418.1" y1="637.25" x2="418.1" y2="645.5" stroke="#1ebe1e" stroke-width="1.2"/>
<line x1="414.85" y1="637.25" x2="421.35" y2="637.25" stroke="#1ebe1e" stroke-width="1.2"/>
<line x1="414.85" y1="645.5" x2="421.35" y2="645.5" stroke="#1ebe1e" stroke-width="1.2"/>
<line x1="449.6" y1="637.5" x2="449.6" y2="641.3" stroke="#1ebe1e" stroke-width="1.2"/>
<line x1="446.35" y1="637.5" x2="452.85" y2="637.5" stroke="#1ebe1e" stroke-width="1.2"/>
<line x1="446.35" y1="641.3" x2="452.85" y2="641.3" stroke="#1ebe1e" stroke-width="1.2"/>
<polyline points="269.75,649.2 404.5,649.2 405.6,647.5 406.6,642 408,640.3 449.6,640.3" fill="none" stroke="#00c000" stroke-width="2.0" stroke-linejoin="round"/>
<polygon points="269.75,646.9 265.9,654.3 273.6,654.3" fill="#00c000"/>
<polygon points="301.4,644.1 297.55,651.5 305.25,651.5" fill="#00c000"/>
<polygon points="333.1,643.2 329.25,650.6 336.95,650.6" fill="#00c000"/>
<polygon points="348.1,649.4 344.25,656.8 351.95,656.8" fill="#00c000"/>
<polygon points="363.3,647.55 359.45,654.95 367.15,654.95" fill="#00c000"/>
<polygon points="378.5,642.3 374.65,649.7 382.35,649.7" fill="#00c000"/>
<polygon points="393.1,650.05 389.25,657.45 396.95,657.45" fill="#00c000"/>
<polygon points="408.6,636.6 404.75,644 412.45,644" fill="#00c000"/>
<polygon points="418.1,638.55 414.25,645.95 421.95,645.95" fill="#00c000"/>
<polygon points="449.6,635.7 445.75,643.1 453.45,643.1" fill="#00c000"/>
<line x1="269.75" y1="639.5" x2="269.75" y2="655.5" stroke="#2020ff" stroke-width="1.2"/>
<line x1="266.5" y1="639.5" x2="273" y2="639.5" stroke="#2020ff" stroke-width="1.2"/>
<line x1="266.5" y1="655.5" x2="273" y2="655.5" stroke="#2020ff" stroke-width="1.2"/>
<line x1="301.4" y1="633.5" x2="301.4" y2="640.5" stroke="#2020ff" stroke-width="1.2"/>
<line x1="298.15" y1="633.5" x2="304.65" y2="633.5" stroke="#2020ff" stroke-width="1.2"/>
<line x1="298.15" y1="640.5" x2="304.65" y2="640.5" stroke="#2020ff" stroke-width="1.2"/>
<line x1="333.1" y1="633.5" x2="333.1" y2="645.3" stroke="#2020ff" stroke-width="1.2"/>
<line x1="329.85" y1="633.5" x2="336.35" y2="633.5" stroke="#2020ff" stroke-width="1.2"/>
<line x1="329.85" y1="645.3" x2="336.35" y2="645.3" stroke="#2020ff" stroke-width="1.2"/>
<line x1="348.1" y1="634.5" x2="348.1" y2="641" stroke="#2020ff" stroke-width="1.2"/>
<line x1="344.85" y1="634.5" x2="351.35" y2="634.5" stroke="#2020ff" stroke-width="1.2"/>
<line x1="344.85" y1="641" x2="351.35" y2="641" stroke="#2020ff" stroke-width="1.2"/>
<line x1="363.3" y1="622.5" x2="363.3" y2="635.6" stroke="#2020ff" stroke-width="1.2"/>
<line x1="360.05" y1="622.5" x2="366.55" y2="622.5" stroke="#2020ff" stroke-width="1.2"/>
<line x1="360.05" y1="635.6" x2="366.55" y2="635.6" stroke="#2020ff" stroke-width="1.2"/>
<line x1="378.5" y1="612" x2="378.5" y2="619.2" stroke="#2020ff" stroke-width="1.2"/>
<line x1="375.25" y1="612" x2="381.75" y2="612" stroke="#2020ff" stroke-width="1.2"/>
<line x1="375.25" y1="619.2" x2="381.75" y2="619.2" stroke="#2020ff" stroke-width="1.2"/>
<line x1="393.1" y1="579" x2="393.1" y2="591.25" stroke="#2020ff" stroke-width="1.2"/>
<line x1="389.85" y1="579" x2="396.35" y2="579" stroke="#2020ff" stroke-width="1.2"/>
<line x1="389.85" y1="591.25" x2="396.35" y2="591.25" stroke="#2020ff" stroke-width="1.2"/>
<line x1="408.6" y1="547" x2="408.6" y2="556.9" stroke="#2020ff" stroke-width="1.2"/>
<line x1="405.35" y1="547" x2="411.85" y2="547" stroke="#2020ff" stroke-width="1.2"/>
<line x1="405.35" y1="556.9" x2="411.85" y2="556.9" stroke="#2020ff" stroke-width="1.2"/>
<line x1="418.1" y1="547.5" x2="418.1" y2="552.5" stroke="#2020ff" stroke-width="1.2"/>
<line x1="414.85" y1="547.5" x2="421.35" y2="547.5" stroke="#2020ff" stroke-width="1.2"/>
<line x1="414.85" y1="552.5" x2="421.35" y2="552.5" stroke="#2020ff" stroke-width="1.2"/>
<line x1="449.6" y1="542.5" x2="449.6" y2="558.75" stroke="#2020ff" stroke-width="1.2"/>
<line x1="446.35" y1="542.5" x2="452.85" y2="542.5" stroke="#2020ff" stroke-width="1.2"/>
<line x1="446.35" y1="558.75" x2="452.85" y2="558.75" stroke="#2020ff" stroke-width="1.2"/>
<polyline points="269.75,640.33 270.88,640.33 272.01,640.33 273.14,640.33 274.27,640.33 275.41,640.33 276.54,640.33 277.67,640.33 278.8,640.33 279.93,640.33 281.06,640.33 282.19,640.33 283.32,640.33 284.45,640.33 285.59,640.33 286.72,640.33 287.85,640.33 288.98,640.33 290.11,640.33 291.24,640.32 292.37,640.32 293.5,640.32 294.63,640.32 295.77,640.32 296.9,640.32 298.03,640.32 299.16,640.32 300.29,640.31 301.42,640.31 302.55,640.31 303.68,640.31 304.82,640.3 305.95,640.3 307.08,640.3 308.21,640.29 309.34,640.29 310.47,640.28 311.6,640.28 312.73,640.27 313.86,640.26 315,640.26 316.13,640.25 317.26,640.24 318.39,640.23 319.52,640.21 320.65,640.2 321.78,640.18 322.91,640.17 324.04,640.15 325.18,640.13 326.31,640.1 327.44,640.08 328.57,640.05 329.7,640.02 330.83,639.98 331.96,639.94 333.09,639.9 334.22,639.84 335.36,639.79 336.49,639.73 337.62,639.66 338.75,639.58 339.88,639.49 341.01,639.4 342.14,639.29 343.27,639.17 344.4,639.04 345.54,638.89 346.67,638.73 347.8,638.55 348.93,638.35 350.06,638.13 351.19,637.88 352.32,637.6 353.45,637.3 354.58,636.96 355.72,636.59 356.85,636.17 357.98,635.71 359.11,635.21 360.24,634.66 361.37,634.04 362.5,633.37 363.63,632.63 364.77,631.82 365.9,630.94 367.03,629.98 368.16,628.92 369.29,627.78 370.42,626.54 371.55,625.21 372.68,623.77 373.81,622.22 374.95,620.57 376.08,618.81 377.21,616.94 378.34,614.96 379.47,612.89 380.6,610.71 381.73,608.45 382.86,606.1 383.99,603.68 385.13,601.2 386.26,598.68 387.39,596.12 388.52,593.54 389.65,590.96 390.78,588.4 391.91,585.86 393.04,583.36 394.17,580.92 395.31,578.54 396.44,576.25 397.57,574.04 398.7,571.93 399.83,569.92 400.96,568.01 402.09,566.21 403.22,564.52 404.35,562.93 405.49,561.46 406.62,560.08 407.75,558.81 408.88,557.64 410.01,556.55 411.14,555.56 412.27,554.65 413.4,553.81 414.53,553.05 415.67,552.35 416.8,551.72 417.93,551.15 419.06,550.62 420.19,550.15 421.32,549.72 422.45,549.34 423.58,548.98 424.72,548.67 425.85,548.38 426.98,548.13 428.11,547.89 429.24,547.68 430.37,547.5 431.5,547.33 432.63,547.17 433.76,547.04 434.9,546.91 436.03,546.8 437.16,546.7 438.29,546.62 439.42,546.53 440.55,546.46 441.68,546.4 442.81,546.34 443.94,546.29 445.08,546.24 446.21,546.2 447.34,546.16 448.47,546.13 449.6,546.1" fill="none" stroke="#0000ff" stroke-width="2.0" stroke-linejoin="round"/>
<rect x="266.3" y="639.05" width="6.9" height="6.9" fill="#0000ff"/>
<rect x="297.95" y="633.45" width="6.9" height="6.9" fill="#0000ff"/>
<rect x="329.65" y="635.95" width="6.9" height="6.9" fill="#0000ff"/>
<rect x="344.65" y="634.3" width="6.9" height="6.9" fill="#0000ff"/>
<rect x="359.85" y="625.3" width="6.9" height="6.9" fill="#0000ff"/>
<rect x="375.05" y="612.15" width="6.9" height="6.9" fill="#0000ff"/>
<rect x="389.65" y="581.8" width="6.9" height="6.9" fill="#0000ff"/>
<rect x="405.15" y="548.45" width="6.9" height="6.9" fill="#0000ff"/>
<rect x="414.65" y="546.55" width="6.9" height="6.9" fill="#0000ff"/>
<rect x="446.15" y="546.95" width="6.9" height="6.9" fill="#0000ff"/>
<line x1="269.75" y1="642" x2="269.75" y2="650.5" stroke="#ff2020" stroke-width="1.2"/>
<line x1="266.5" y1="642" x2="273" y2="642" stroke="#ff2020" stroke-width="1.2"/>
<line x1="266.5" y1="650.5" x2="273" y2="650.5" stroke="#ff2020" stroke-width="1.2"/>
<line x1="301.4" y1="633.3" x2="301.4" y2="646.5" stroke="#ff2020" stroke-width="1.2"/>
<line x1="298.15" y1="633.3" x2="304.65" y2="633.3" stroke="#ff2020" stroke-width="1.2"/>
<line x1="298.15" y1="646.5" x2="304.65" y2="646.5" stroke="#ff2020" stroke-width="1.2"/>
<line x1="333.1" y1="605.5" x2="333.1" y2="611.5" stroke="#ff2020" stroke-width="1.2"/>
<line x1="329.85" y1="605.5" x2="336.35" y2="605.5" stroke="#ff2020" stroke-width="1.2"/>
<line x1="329.85" y1="611.5" x2="336.35" y2="611.5" stroke="#ff2020" stroke-width="1.2"/>
<line x1="348.1" y1="579.75" x2="348.1" y2="589" stroke="#ff2020" stroke-width="1.2"/>
<line x1="344.85" y1="579.75" x2="351.35" y2="579.75" stroke="#ff2020" stroke-width="1.2"/>
<line x1="344.85" y1="589" x2="351.35" y2="589" stroke="#ff2020" stroke-width="1.2"/>
<line x1="363.3" y1="551.5" x2="363.3" y2="557" stroke="#ff2020" stroke-width="1.2"/>
<line x1="360.05" y1="551.5" x2="366.55" y2="551.5" stroke="#ff2020" stroke-width="1.2"/>
<line x1="360.05" y1="557" x2="366.55" y2="557" stroke="#ff2020" stroke-width="1.2"/>
<line x1="378.5" y1="531.5" x2="378.5" y2="542.25" stroke="#ff2020" stroke-width="1.2"/>
<line x1="375.25" y1="531.5" x2="381.75" y2="531.5" stroke="#ff2020" stroke-width="1.2"/>
<line x1="375.25" y1="542.25" x2="381.75" y2="542.25" stroke="#ff2020" stroke-width="1.2"/>
<line x1="393.1" y1="542" x2="393.1" y2="547" stroke="#ff2020" stroke-width="1.2"/>
<line x1="389.85" y1="542" x2="396.35" y2="542" stroke="#ff2020" stroke-width="1.2"/>
<line x1="389.85" y1="547" x2="396.35" y2="547" stroke="#ff2020" stroke-width="1.2"/>
<line x1="408.6" y1="529" x2="408.6" y2="533.5" stroke="#ff2020" stroke-width="1.2"/>
<line x1="405.35" y1="529" x2="411.85" y2="529" stroke="#ff2020" stroke-width="1.2"/>
<line x1="405.35" y1="533.5" x2="411.85" y2="533.5" stroke="#ff2020" stroke-width="1.2"/>
<line x1="418.1" y1="531" x2="418.1" y2="535.2" stroke="#ff2020" stroke-width="1.2"/>
<line x1="414.85" y1="531" x2="421.35" y2="531" stroke="#ff2020" stroke-width="1.2"/>
<line x1="414.85" y1="535.2" x2="421.35" y2="535.2" stroke="#ff2020" stroke-width="1.2"/>
<line x1="449.6" y1="532.75" x2="449.6" y2="543.1" stroke="#ff2020" stroke-width="1.2"/>
<line x1="446.35" y1="532.75" x2="452.85" y2="532.75" stroke="#ff2020" stroke-width="1.2"/>
<line x1="446.35" y1="543.1" x2="452.85" y2="543.1" stroke="#ff2020" stroke-width="1.2"/>
<polyline points="269.75,645.33 270.88,645.28 272.01,645.22 273.14,645.16 274.27,645.1 275.41,645.03 276.54,644.96 277.67,644.88 278.8,644.79 279.93,644.7 281.06,644.59 282.19,644.48 283.32,644.36 284.45,644.24 285.59,644.1 286.72,643.95 287.85,643.78 288.98,643.61 290.11,643.42 291.24,643.21 292.37,642.99 293.5,642.76 294.63,642.5 295.77,642.22 296.9,641.92 298.03,641.6 299.16,641.26 300.29,640.88 301.42,640.48 302.55,640.05 303.68,639.59 304.82,639.09 305.95,638.56 307.08,637.99 308.21,637.37 309.34,636.72 310.47,636.02 311.6,635.27 312.73,634.47 313.86,633.62 315,632.71 316.13,631.75 317.26,630.73 318.39,629.64 319.52,628.5 320.65,627.28 321.78,626 322.91,624.66 324.04,623.24 325.18,621.76 326.31,620.2 327.44,618.58 328.57,616.89 329.7,615.14 330.83,613.31 331.96,611.43 333.09,609.49 334.22,607.5 335.36,605.45 336.49,603.36 337.62,601.22 338.75,599.06 339.88,596.86 341.01,594.64 342.14,592.41 343.27,590.17 344.4,587.93 345.54,585.7 346.67,583.48 347.8,581.28 348.93,579.11 350.06,576.98 351.19,574.88 352.32,572.83 353.45,570.82 354.58,568.88 355.72,566.99 356.85,565.16 357.98,563.39 359.11,561.7 360.24,560.07 361.37,558.5 362.5,557.01 363.63,555.59 364.77,554.23 365.9,552.95 367.03,551.73 368.16,550.57 369.29,549.48 370.42,548.45 371.55,547.48 372.68,546.57 373.81,545.71 374.95,544.9 376.08,544.15 377.21,543.44 378.34,542.78 379.47,542.16 380.6,541.59 381.73,541.05 382.86,540.55 383.99,540.08 385.13,539.65 386.26,539.24 387.39,538.87 388.52,538.52 389.65,538.19 390.78,537.89 391.91,537.61 393.04,537.35 394.17,537.11 395.31,536.89 396.44,536.69 397.57,536.49 398.7,536.32 399.83,536.15 400.96,536 402.09,535.86 403.22,535.73 404.35,535.61 405.49,535.5 406.62,535.4 407.75,535.3 408.88,535.21 410.01,535.13 411.14,535.06 412.27,534.99 413.4,534.92 414.53,534.86 415.67,534.81 416.8,534.76 417.93,534.71 419.06,534.67 420.19,534.63 421.32,534.59 422.45,534.56 423.58,534.53 424.72,534.5 425.85,534.47 426.98,534.45 428.11,534.42 429.24,534.4 430.37,534.38 431.5,534.37 432.63,534.35 433.76,534.33 434.9,534.32 436.03,534.31 437.16,534.3 438.29,534.28 439.42,534.27 440.55,534.26 441.68,534.26 442.81,534.25 443.94,534.24 445.08,534.23 446.21,534.23 447.34,534.22 448.47,534.22 449.6,534.21" fill="none" stroke="#ff0000" stroke-width="2.0" stroke-linejoin="round"/>
<circle cx="269.75" cy="646.25" r="3.7" fill="#ff0000"/>
<circle cx="301.4" cy="639.9" r="3.7" fill="#ff0000"/>
<circle cx="333.1" cy="608.5" r="3.7" fill="#ff0000"/>
<circle cx="348.1" cy="584.4" r="3.7" fill="#ff0000"/>
<circle cx="363.3" cy="554.2" r="3.7" fill="#ff0000"/>
<circle cx="378.5" cy="536.9" r="3.7" fill="#ff0000"/>
<circle cx="393.1" cy="544.4" r="3.7" fill="#ff0000"/>
<circle cx="408.6" cy="531.25" r="3.7" fill="#ff0000"/>
<circle cx="418.1" cy="533.1" r="3.7" fill="#ff0000"/>
<circle cx="449.6" cy="538.1" r="3.7" fill="#ff0000"/>
<line x1="237.4" y1="513.6" x2="255.4" y2="513.6" stroke="#ff0000" stroke-width="1.6"/>
<circle cx="246.4" cy="513.6" r="3.8" fill="#ff0000"/>
<text transform="translate(265.7 517.9) scale(1 1.09)" font-size="11.5" text-anchor="start" fill="#111111">anti-CD20 mAb</text>
<line x1="237.4" y1="527.6" x2="255.4" y2="527.6" stroke="#0000ff" stroke-width="1.6"/>
<rect x="242.9" y="524.1" width="7.0" height="7.0" fill="#0000ff"/>
<text transform="translate(265.7 531.9) scale(1 1.09)" font-size="11.5" text-anchor="start" fill="#111111">Rituxan</text>
<line x1="237.4" y1="541.7" x2="255.4" y2="541.7" stroke="#00c000" stroke-width="1.6"/>
<polygon points="246.4,538.1 242.55,545.3 250.25,545.3" fill="#00c000"/>
<text transform="translate(265.7 546) scale(1 1.09)" font-size="11.5" text-anchor="start" fill="#111111">Herceptin</text>
</g>
</svg>
</body></html>
